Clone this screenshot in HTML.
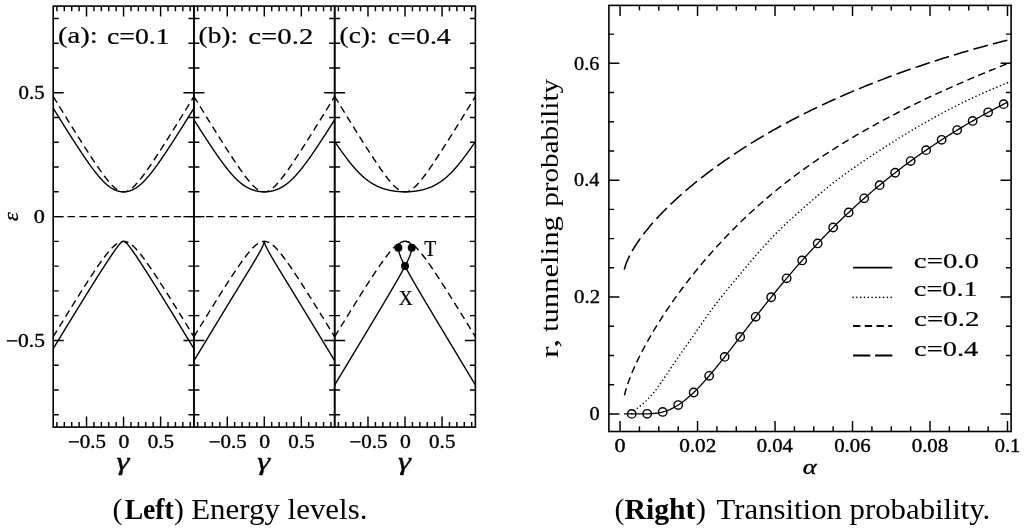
<!DOCTYPE html>
<html><head><meta charset="utf-8"><title>Energy levels and transition probability</title>
<style>
html,body{margin:0;padding:0;background:#fff;}
body{width:1024px;height:532px;overflow:hidden;}
svg{display:block;}
text{font-family:'Liberation Serif', 'DejaVu Serif', serif;fill:#000;}
.fr{fill:none;stroke:#000;stroke-width:1.6;}
.tk{fill:none;stroke:#000;stroke-width:1.45;}
.sl{fill:none;stroke:#000;stroke-width:1.45;stroke-linejoin:round;}
.dl{fill:none;stroke:#000;stroke-width:1.4;stroke-dasharray:7.3 4.5;}
.sll{fill:none;stroke:#000;stroke-width:1.4;stroke-linejoin:round;}
.slz{fill:none;stroke:#000;stroke-width:1.3;stroke-linejoin:round;}
.sd{fill:none;stroke:#000;stroke-width:1.45;stroke-dasharray:7.3 4.4;}
.ld{fill:none;stroke:#000;stroke-width:1.55;stroke-dasharray:15 5.2;}
.dt{fill:none;stroke:#000;stroke-width:1.65;stroke-dasharray:0 3.8;stroke-linecap:round;}
.tl{stroke:#000;stroke-width:0.35;}
.tl2{stroke:#000;stroke-width:0.2;}
.mk{fill:none;stroke:#000;stroke-width:1.4;}
circle{fill:#000;}
circle.mk{fill:none;}
</style></head>
<body>
<svg width="1024" height="532" viewBox="0 0 1024 532" xmlns="http://www.w3.org/2000/svg">
<path class="dl" d="M53.2 96.41 L53.94 97.62 L54.68 98.83 L55.42 100.04 L56.16 101.25 L56.9 102.46 L57.64 103.67 L58.38 104.88 L59.13 106.08 L59.87 107.29 L60.61 108.5 L61.35 109.7 L62.09 110.9 L62.83 112.11 L63.57 113.31 L64.31 114.51 L65.05 115.71 L65.79 116.91 L66.53 118.11 L67.27 119.31 L68.01 120.51 L68.75 121.7 L69.5 122.9 L70.24 124.09 L70.98 125.28 L71.72 126.47 L72.46 127.66 L73.2 128.85 L73.94 130.04 L74.68 131.22 L75.42 132.41 L76.16 133.59 L76.9 134.77 L77.64 135.95 L78.38 137.13 L79.12 138.3 L79.86 139.48 L80.61 140.65 L81.35 141.82 L82.09 142.98 L82.83 144.15 L83.57 145.31 L84.31 146.47 L85.05 147.63 L85.79 148.78 L86.53 149.93 L87.27 151.08 L88.01 152.22 L88.75 153.36 L89.49 154.5 L90.23 155.64 L90.97 156.76 L91.72 157.89 L92.46 159.01 L93.2 160.12 L93.94 161.23 L94.68 162.34 L95.42 163.44 L96.16 164.53 L96.9 165.62 L97.64 166.69 L98.38 167.77 L99.12 168.83 L99.86 169.88 L100.6 170.93 L101.34 171.96 L102.09 172.99 L102.83 174 L103.57 175 L104.31 175.99 L105.05 176.96 L105.79 177.92 L106.53 178.87 L107.27 179.79 L108.01 180.7 L108.75 181.58 L109.49 182.45 L110.23 183.29 L110.97 184.1 L111.71 184.89 L112.45 185.65 L113.2 186.38 L113.94 187.07 L114.68 187.73 L115.42 188.34 L116.16 188.92 L116.9 189.45 L117.64 189.93 L118.38 190.37 L119.12 190.75 L119.86 191.08 L120.6 191.35 L121.34 191.56 L122.08 191.72 L122.82 191.81 L123.57 191.84 L124.31 191.81 L125.05 191.72 L125.79 191.56 L126.53 191.35 L127.27 191.08 L128.01 190.75 L128.75 190.37 L129.49 189.93 L130.23 189.45 L130.97 188.92 L131.71 188.34 L132.45 187.73 L133.19 187.07 L133.93 186.38 L134.68 185.65 L135.42 184.89 L136.16 184.1 L136.9 183.29 L137.64 182.45 L138.38 181.58 L139.12 180.7 L139.86 179.79 L140.6 178.87 L141.34 177.92 L142.08 176.96 L142.82 175.99 L143.56 175 L144.3 174 L145.04 172.99 L145.79 171.96 L146.53 170.93 L147.27 169.88 L148.01 168.83 L148.75 167.77 L149.49 166.69 L150.23 165.62 L150.97 164.53 L151.71 163.44 L152.45 162.34 L153.19 161.23 L153.93 160.12 L154.67 159.01 L155.41 157.89 L156.16 156.76 L156.9 155.64 L157.64 154.5 L158.38 153.36 L159.12 152.22 L159.86 151.08 L160.6 149.93 L161.34 148.78 L162.08 147.63 L162.82 146.47 L163.56 145.31 L164.3 144.15 L165.04 142.98 L165.78 141.82 L166.52 140.65 L167.27 139.48 L168.01 138.3 L168.75 137.13 L169.49 135.95 L170.23 134.77 L170.97 133.59 L171.71 132.41 L172.45 131.22 L173.19 130.04 L173.93 128.85 L174.67 127.66 L175.41 126.47 L176.15 125.28 L176.89 124.09 L177.63 122.9 L178.38 121.7 L179.12 120.51 L179.86 119.31 L180.6 118.11 L181.34 116.91 L182.08 115.71 L182.82 114.51 L183.56 113.31 L184.3 112.11 L185.04 110.9 L185.78 109.7 L186.52 108.5 L187.26 107.29 L188 106.08 L188.75 104.88 L189.49 103.67 L190.23 102.46 L190.97 101.25 L191.71 100.04 L192.45 98.83 L193.19 97.62 L193.93 96.41"/>
<path class="dl" d="M53.2 336.79 L53.94 335.58 L54.68 334.37 L55.42 333.16 L56.16 331.95 L56.9 330.74 L57.64 329.53 L58.38 328.32 L59.13 327.12 L59.87 325.91 L60.61 324.7 L61.35 323.5 L62.09 322.3 L62.83 321.09 L63.57 319.89 L64.31 318.69 L65.05 317.49 L65.79 316.29 L66.53 315.09 L67.27 313.89 L68.01 312.69 L68.75 311.5 L69.5 310.3 L70.24 309.11 L70.98 307.92 L71.72 306.73 L72.46 305.54 L73.2 304.35 L73.94 303.16 L74.68 301.98 L75.42 300.79 L76.16 299.61 L76.9 298.43 L77.64 297.25 L78.38 296.07 L79.12 294.9 L79.86 293.72 L80.61 292.55 L81.35 291.38 L82.09 290.22 L82.83 289.05 L83.57 287.89 L84.31 286.73 L85.05 285.57 L85.79 284.42 L86.53 283.27 L87.27 282.12 L88.01 280.98 L88.75 279.84 L89.49 278.7 L90.23 277.56 L90.97 276.44 L91.72 275.31 L92.46 274.19 L93.2 273.08 L93.94 271.97 L94.68 270.86 L95.42 269.76 L96.16 268.67 L96.9 267.58 L97.64 266.51 L98.38 265.43 L99.12 264.37 L99.86 263.32 L100.6 262.27 L101.34 261.24 L102.09 260.21 L102.83 259.2 L103.57 258.2 L104.31 257.21 L105.05 256.24 L105.79 255.28 L106.53 254.33 L107.27 253.41 L108.01 252.5 L108.75 251.62 L109.49 250.75 L110.23 249.91 L110.97 249.1 L111.71 248.31 L112.45 247.55 L113.2 246.82 L113.94 246.13 L114.68 245.47 L115.42 244.86 L116.16 244.28 L116.9 243.75 L117.64 243.27 L118.38 242.83 L119.12 242.45 L119.86 242.12 L120.6 241.85 L121.34 241.64 L122.08 241.48 L122.82 241.39 L123.57 241.36 L124.31 241.39 L125.05 241.48 L125.79 241.64 L126.53 241.85 L127.27 242.12 L128.01 242.45 L128.75 242.83 L129.49 243.27 L130.23 243.75 L130.97 244.28 L131.71 244.86 L132.45 245.47 L133.19 246.13 L133.93 246.82 L134.68 247.55 L135.42 248.31 L136.16 249.1 L136.9 249.91 L137.64 250.75 L138.38 251.62 L139.12 252.5 L139.86 253.41 L140.6 254.33 L141.34 255.28 L142.08 256.24 L142.82 257.21 L143.56 258.2 L144.3 259.2 L145.04 260.21 L145.79 261.24 L146.53 262.27 L147.27 263.32 L148.01 264.37 L148.75 265.43 L149.49 266.51 L150.23 267.58 L150.97 268.67 L151.71 269.76 L152.45 270.86 L153.19 271.97 L153.93 273.08 L154.67 274.19 L155.41 275.31 L156.16 276.44 L156.9 277.56 L157.64 278.7 L158.38 279.84 L159.12 280.98 L159.86 282.12 L160.6 283.27 L161.34 284.42 L162.08 285.57 L162.82 286.73 L163.56 287.89 L164.3 289.05 L165.04 290.22 L165.78 291.38 L166.52 292.55 L167.27 293.72 L168.01 294.9 L168.75 296.07 L169.49 297.25 L170.23 298.43 L170.97 299.61 L171.71 300.79 L172.45 301.98 L173.19 303.16 L173.93 304.35 L174.67 305.54 L175.41 306.73 L176.15 307.92 L176.89 309.11 L177.63 310.3 L178.38 311.5 L179.12 312.69 L179.86 313.89 L180.6 315.09 L181.34 316.29 L182.08 317.49 L182.82 318.69 L183.56 319.89 L184.3 321.09 L185.04 322.3 L185.78 323.5 L186.52 324.7 L187.26 325.91 L188 327.12 L188.75 328.32 L189.49 329.53 L190.23 330.74 L190.97 331.95 L191.71 333.16 L192.45 334.37 L193.19 335.58 L193.93 336.79"/>
<path class="dl" style="stroke-dashoffset:9.2" d="M53.2 216.6 H193.93"/>
<path class="sll" d="M53.2 108.18 L53.57 108.78 L53.94 109.38 L54.31 109.97 L54.68 110.57 L55.05 111.17 L55.42 111.77 L55.79 112.37 L56.16 112.96 L56.53 113.56 L56.9 114.16 L57.27 114.75 L57.64 115.35 L58.01 115.94 L58.38 116.54 L58.76 117.13 L59.13 117.73 L59.5 118.32 L59.87 118.92 L60.24 119.51 L60.61 120.1 L60.98 120.7 L61.35 121.29 L61.72 121.88 L62.09 122.47 L62.46 123.07 L62.83 123.66 L63.2 124.25 L63.57 124.84 L63.94 125.43 L64.31 126.02 L64.68 126.61 L65.05 127.2 L65.42 127.79 L65.79 128.37 L66.16 128.96 L66.53 129.55 L66.9 130.13 L67.27 130.72 L67.64 131.31 L68.01 131.89 L68.38 132.47 L68.75 133.06 L69.12 133.64 L69.5 134.22 L69.87 134.81 L70.24 135.39 L70.61 135.97 L70.98 136.55 L71.35 137.13 L71.72 137.71 L72.09 138.29 L72.46 138.86 L72.83 139.44 L73.2 140.02 L73.57 140.59 L73.94 141.17 L74.31 141.74 L74.68 142.32 L75.05 142.89 L75.42 143.46 L75.79 144.03 L76.16 144.6 L76.53 145.17 L76.9 145.74 L77.27 146.31 L77.64 146.87 L78.01 147.44 L78.38 148 L78.75 148.57 L79.12 149.13 L79.49 149.69 L79.86 150.25 L80.23 150.81 L80.61 151.37 L80.98 151.92 L81.35 152.48 L81.72 153.03 L82.09 153.59 L82.46 154.14 L82.83 154.69 L83.2 155.24 L83.57 155.79 L83.94 156.33 L84.31 156.88 L84.68 157.42 L85.05 157.96 L85.42 158.5 L85.79 159.04 L86.16 159.58 L86.53 160.11 L86.9 160.64 L87.27 161.18 L87.64 161.71 L88.01 162.23 L88.38 162.76 L88.75 163.28 L89.12 163.8 L89.49 164.32 L89.86 164.84 L90.23 165.35 L90.6 165.86 L90.97 166.37 L91.35 166.88 L91.72 167.38 L92.09 167.89 L92.46 168.38 L92.83 168.88 L93.2 169.37 L93.57 169.86 L93.94 170.35 L94.31 170.83 L94.68 171.32 L95.05 171.79 L95.42 172.27 L95.79 172.74 L96.16 173.2 L96.53 173.67 L96.9 174.13 L97.27 174.58 L97.64 175.03 L98.01 175.48 L98.38 175.93 L98.75 176.36 L99.12 176.8 L99.49 177.23 L99.86 177.66 L100.23 178.08 L100.6 178.49 L100.97 178.9 L101.34 179.31 L101.71 179.71 L102.09 180.11 L102.46 180.5 L102.83 180.88 L103.2 181.26 L103.57 181.64 L103.94 182.01 L104.31 182.37 L104.68 182.72 L105.05 183.07 L105.42 183.42 L105.79 183.76 L106.16 184.09 L106.53 184.41 L106.9 184.73 L107.27 185.05 L107.64 185.35 L108.01 185.65 L108.38 185.94 L108.75 186.23 L109.12 186.51 L109.49 186.78 L109.86 187.04 L110.23 187.3 L110.6 187.55 L110.97 187.8 L111.34 188.03 L111.71 188.26 L112.08 188.48 L112.45 188.7 L112.83 188.91 L113.2 189.11 L113.57 189.3 L113.94 189.49 L114.31 189.67 L114.68 189.84 L115.05 190 L115.42 190.16 L115.79 190.31 L116.16 190.45 L116.53 190.59 L116.9 190.72 L117.27 190.84 L117.64 190.95 L118.01 191.06 L118.38 191.16 L118.75 191.26 L119.12 191.34 L119.49 191.42 L119.86 191.5 L120.23 191.56 L120.6 191.62 L120.97 191.67 L121.34 191.72 L121.71 191.75 L122.08 191.78 L122.45 191.81 L122.82 191.83 L123.19 191.84 L123.56 191.84 L123.57 191.84 L123.94 191.84 L124.31 191.83 L124.68 191.81 L125.05 191.78 L125.42 191.75 L125.79 191.72 L126.16 191.67 L126.53 191.62 L126.9 191.56 L127.27 191.5 L127.64 191.42 L128.01 191.34 L128.38 191.26 L128.75 191.16 L129.12 191.06 L129.49 190.95 L129.86 190.84 L130.23 190.72 L130.6 190.59 L130.97 190.45 L131.34 190.31 L131.71 190.16 L132.08 190 L132.45 189.84 L132.82 189.67 L133.19 189.49 L133.56 189.3 L133.93 189.11 L134.3 188.91 L134.68 188.7 L135.05 188.48 L135.42 188.26 L135.79 188.03 L136.16 187.8 L136.53 187.55 L136.9 187.3 L137.27 187.04 L137.64 186.78 L138.01 186.51 L138.38 186.23 L138.75 185.94 L139.12 185.65 L139.49 185.35 L139.86 185.05 L140.23 184.73 L140.6 184.41 L140.97 184.09 L141.34 183.76 L141.71 183.42 L142.08 183.07 L142.45 182.72 L142.82 182.37 L143.19 182.01 L143.56 181.64 L143.93 181.26 L144.3 180.88 L144.67 180.5 L145.04 180.11 L145.42 179.71 L145.79 179.31 L146.16 178.9 L146.53 178.49 L146.9 178.08 L147.27 177.66 L147.64 177.23 L148.01 176.8 L148.38 176.36 L148.75 175.93 L149.12 175.48 L149.49 175.03 L149.86 174.58 L150.23 174.13 L150.6 173.67 L150.97 173.2 L151.34 172.74 L151.71 172.27 L152.08 171.79 L152.45 171.32 L152.82 170.83 L153.19 170.35 L153.56 169.86 L153.93 169.37 L154.3 168.88 L154.67 168.38 L155.04 167.89 L155.41 167.38 L155.78 166.88 L156.16 166.37 L156.53 165.86 L156.9 165.35 L157.27 164.84 L157.64 164.32 L158.01 163.8 L158.38 163.28 L158.75 162.76 L159.12 162.23 L159.49 161.71 L159.86 161.18 L160.23 160.64 L160.6 160.11 L160.97 159.58 L161.34 159.04 L161.71 158.5 L162.08 157.96 L162.45 157.42 L162.82 156.88 L163.19 156.33 L163.56 155.79 L163.93 155.24 L164.3 154.69 L164.67 154.14 L165.04 153.59 L165.41 153.03 L165.78 152.48 L166.15 151.92 L166.52 151.37 L166.9 150.81 L167.27 150.25 L167.64 149.69 L168.01 149.13 L168.38 148.57 L168.75 148 L169.12 147.44 L169.49 146.87 L169.86 146.31 L170.23 145.74 L170.6 145.17 L170.97 144.6 L171.34 144.03 L171.71 143.46 L172.08 142.89 L172.45 142.32 L172.82 141.74 L173.19 141.17 L173.56 140.59 L173.93 140.02 L174.3 139.44 L174.67 138.86 L175.04 138.29 L175.41 137.71 L175.78 137.13 L176.15 136.55 L176.52 135.97 L176.89 135.39 L177.26 134.81 L177.63 134.22 L178.01 133.64 L178.38 133.06 L178.75 132.47 L179.12 131.89 L179.49 131.31 L179.86 130.72 L180.23 130.13 L180.6 129.55 L180.97 128.96 L181.34 128.37 L181.71 127.79 L182.08 127.2 L182.45 126.61 L182.82 126.02 L183.19 125.43 L183.56 124.84 L183.93 124.25 L184.3 123.66 L184.67 123.07 L185.04 122.47 L185.41 121.88 L185.78 121.29 L186.15 120.7 L186.52 120.1 L186.89 119.51 L187.26 118.92 L187.63 118.32 L188 117.73 L188.37 117.13 L188.75 116.54 L189.12 115.94 L189.49 115.35 L189.86 114.75 L190.23 114.16 L190.6 113.56 L190.97 112.96 L191.34 112.37 L191.71 111.77 L192.08 111.17 L192.45 110.57 L192.82 109.97 L193.19 109.38 L193.56 108.78 L193.93 108.18"/>
<path class="sll" d="M53.2 348.71 L53.57 348.1 L53.94 347.49 L54.31 346.88 L54.68 346.27 L55.05 345.66 L55.42 345.05 L55.79 344.44 L56.16 343.83 L56.53 343.22 L56.9 342.62 L57.27 342.01 L57.64 341.4 L58.01 340.79 L58.38 340.18 L58.76 339.57 L59.13 338.96 L59.5 338.35 L59.87 337.74 L60.24 337.14 L60.61 336.53 L60.98 335.92 L61.35 335.31 L61.72 334.7 L62.09 334.09 L62.46 333.49 L62.83 332.88 L63.2 332.27 L63.57 331.66 L63.94 331.06 L64.31 330.45 L64.68 329.84 L65.05 329.23 L65.42 328.63 L65.79 328.02 L66.16 327.41 L66.53 326.81 L66.9 326.2 L67.27 325.59 L67.64 324.99 L68.01 324.38 L68.38 323.78 L68.75 323.17 L69.12 322.56 L69.5 321.96 L69.87 321.35 L70.24 320.75 L70.61 320.14 L70.98 319.54 L71.35 318.93 L71.72 318.33 L72.09 317.72 L72.46 317.12 L72.83 316.51 L73.2 315.91 L73.57 315.31 L73.94 314.7 L74.31 314.1 L74.68 313.49 L75.05 312.89 L75.42 312.29 L75.79 311.68 L76.16 311.08 L76.53 310.48 L76.9 309.88 L77.27 309.27 L77.64 308.67 L78.01 308.07 L78.38 307.47 L78.75 306.87 L79.12 306.27 L79.49 305.66 L79.86 305.06 L80.23 304.46 L80.61 303.86 L80.98 303.26 L81.35 302.66 L81.72 302.06 L82.09 301.46 L82.46 300.86 L82.83 300.26 L83.2 299.66 L83.57 299.07 L83.94 298.47 L84.31 297.87 L84.68 297.27 L85.05 296.67 L85.42 296.08 L85.79 295.48 L86.16 294.88 L86.53 294.29 L86.9 293.69 L87.27 293.09 L87.64 292.5 L88.01 291.9 L88.38 291.31 L88.75 290.71 L89.12 290.12 L89.49 289.52 L89.86 288.93 L90.23 288.34 L90.6 287.74 L90.97 287.15 L91.35 286.56 L91.72 285.97 L92.09 285.38 L92.46 284.79 L92.83 284.19 L93.2 283.6 L93.57 283.01 L93.94 282.43 L94.31 281.84 L94.68 281.25 L95.05 280.66 L95.42 280.07 L95.79 279.48 L96.16 278.9 L96.53 278.31 L96.9 277.73 L97.27 277.14 L97.64 276.56 L98.01 275.97 L98.38 275.39 L98.75 274.81 L99.12 274.22 L99.49 273.64 L99.86 273.06 L100.23 272.48 L100.6 271.9 L100.97 271.32 L101.34 270.74 L101.71 270.17 L102.09 269.59 L102.46 269.01 L102.83 268.44 L103.2 267.86 L103.57 267.29 L103.94 266.71 L104.31 266.14 L104.68 265.57 L105.05 265 L105.42 264.43 L105.79 263.86 L106.16 263.29 L106.53 262.73 L106.9 262.16 L107.27 261.6 L107.64 261.03 L108.01 260.47 L108.38 259.91 L108.75 259.35 L109.12 258.79 L109.49 258.24 L109.86 257.68 L110.23 257.13 L110.6 256.58 L110.97 256.02 L111.34 255.48 L111.71 254.93 L112.08 254.38 L112.45 253.84 L112.83 253.3 L113.2 252.76 L113.57 252.23 L113.94 251.69 L114.31 251.16 L114.68 250.63 L115.05 250.11 L115.42 249.59 L115.79 249.07 L116.16 248.56 L116.53 248.05 L116.9 247.55 L117.27 247.05 L117.64 246.56 L118.01 246.08 L118.38 245.61 L118.75 245.15 L119.12 244.7 L119.49 244.26 L119.86 243.84 L120.23 243.43 L120.6 243.05 L120.97 242.7 L121.34 242.37 L121.71 242.08 L122.08 241.83 L122.45 241.63 L122.82 241.48 L123.19 241.39 L123.56 241.36 L123.57 241.36 L123.94 241.39 L124.31 241.48 L124.68 241.63 L125.05 241.83 L125.42 242.08 L125.79 242.37 L126.16 242.7 L126.53 243.05 L126.9 243.43 L127.27 243.84 L127.64 244.26 L128.01 244.7 L128.38 245.15 L128.75 245.61 L129.12 246.08 L129.49 246.56 L129.86 247.05 L130.23 247.55 L130.6 248.05 L130.97 248.56 L131.34 249.07 L131.71 249.59 L132.08 250.11 L132.45 250.63 L132.82 251.16 L133.19 251.69 L133.56 252.23 L133.93 252.76 L134.3 253.3 L134.68 253.84 L135.05 254.38 L135.42 254.93 L135.79 255.48 L136.16 256.02 L136.53 256.58 L136.9 257.13 L137.27 257.68 L137.64 258.24 L138.01 258.79 L138.38 259.35 L138.75 259.91 L139.12 260.47 L139.49 261.03 L139.86 261.6 L140.23 262.16 L140.6 262.73 L140.97 263.29 L141.34 263.86 L141.71 264.43 L142.08 265 L142.45 265.57 L142.82 266.14 L143.19 266.71 L143.56 267.29 L143.93 267.86 L144.3 268.44 L144.67 269.01 L145.04 269.59 L145.42 270.17 L145.79 270.74 L146.16 271.32 L146.53 271.9 L146.9 272.48 L147.27 273.06 L147.64 273.64 L148.01 274.22 L148.38 274.81 L148.75 275.39 L149.12 275.97 L149.49 276.56 L149.86 277.14 L150.23 277.73 L150.6 278.31 L150.97 278.9 L151.34 279.48 L151.71 280.07 L152.08 280.66 L152.45 281.25 L152.82 281.84 L153.19 282.43 L153.56 283.01 L153.93 283.6 L154.3 284.19 L154.67 284.79 L155.04 285.38 L155.41 285.97 L155.78 286.56 L156.16 287.15 L156.53 287.74 L156.9 288.34 L157.27 288.93 L157.64 289.52 L158.01 290.12 L158.38 290.71 L158.75 291.31 L159.12 291.9 L159.49 292.5 L159.86 293.09 L160.23 293.69 L160.6 294.29 L160.97 294.88 L161.34 295.48 L161.71 296.08 L162.08 296.67 L162.45 297.27 L162.82 297.87 L163.19 298.47 L163.56 299.07 L163.93 299.66 L164.3 300.26 L164.67 300.86 L165.04 301.46 L165.41 302.06 L165.78 302.66 L166.15 303.26 L166.52 303.86 L166.9 304.46 L167.27 305.06 L167.64 305.66 L168.01 306.27 L168.38 306.87 L168.75 307.47 L169.12 308.07 L169.49 308.67 L169.86 309.27 L170.23 309.88 L170.6 310.48 L170.97 311.08 L171.34 311.68 L171.71 312.29 L172.08 312.89 L172.45 313.49 L172.82 314.1 L173.19 314.7 L173.56 315.31 L173.93 315.91 L174.3 316.51 L174.67 317.12 L175.04 317.72 L175.41 318.33 L175.78 318.93 L176.15 319.54 L176.52 320.14 L176.89 320.75 L177.26 321.35 L177.63 321.96 L178.01 322.56 L178.38 323.17 L178.75 323.78 L179.12 324.38 L179.49 324.99 L179.86 325.59 L180.23 326.2 L180.6 326.81 L180.97 327.41 L181.34 328.02 L181.71 328.63 L182.08 329.23 L182.45 329.84 L182.82 330.45 L183.19 331.06 L183.56 331.66 L183.93 332.27 L184.3 332.88 L184.67 333.49 L185.04 334.09 L185.41 334.7 L185.78 335.31 L186.15 335.92 L186.52 336.53 L186.89 337.14 L187.26 337.74 L187.63 338.35 L188 338.96 L188.37 339.57 L188.75 340.18 L189.12 340.79 L189.49 341.4 L189.86 342.01 L190.23 342.62 L190.6 343.22 L190.97 343.83 L191.34 344.44 L191.71 345.05 L192.08 345.66 L192.45 346.27 L192.82 346.88 L193.19 347.49 L193.56 348.1 L193.93 348.71"/>
<path class="dl" d="M193.93 96.41 L194.67 97.62 L195.41 98.83 L196.15 100.04 L196.89 101.25 L197.63 102.46 L198.37 103.67 L199.11 104.88 L199.86 106.08 L200.6 107.29 L201.34 108.5 L202.08 109.7 L202.82 110.9 L203.56 112.11 L204.3 113.31 L205.04 114.51 L205.78 115.71 L206.52 116.91 L207.26 118.11 L208 119.31 L208.74 120.51 L209.48 121.7 L210.23 122.9 L210.97 124.09 L211.71 125.28 L212.45 126.47 L213.19 127.66 L213.93 128.85 L214.67 130.04 L215.41 131.22 L216.15 132.41 L216.89 133.59 L217.63 134.77 L218.37 135.95 L219.11 137.13 L219.85 138.3 L220.59 139.48 L221.34 140.65 L222.08 141.82 L222.82 142.98 L223.56 144.15 L224.3 145.31 L225.04 146.47 L225.78 147.63 L226.52 148.78 L227.26 149.93 L228 151.08 L228.74 152.22 L229.48 153.36 L230.22 154.5 L230.96 155.64 L231.7 156.76 L232.45 157.89 L233.19 159.01 L233.93 160.12 L234.67 161.23 L235.41 162.34 L236.15 163.44 L236.89 164.53 L237.63 165.62 L238.37 166.69 L239.11 167.77 L239.85 168.83 L240.59 169.88 L241.33 170.93 L242.07 171.96 L242.82 172.99 L243.56 174 L244.3 175 L245.04 175.99 L245.78 176.96 L246.52 177.92 L247.26 178.87 L248 179.79 L248.74 180.7 L249.48 181.58 L250.22 182.45 L250.96 183.29 L251.7 184.1 L252.44 184.89 L253.18 185.65 L253.93 186.38 L254.67 187.07 L255.41 187.73 L256.15 188.34 L256.89 188.92 L257.63 189.45 L258.37 189.93 L259.11 190.37 L259.85 190.75 L260.59 191.08 L261.33 191.35 L262.07 191.56 L262.81 191.72 L263.55 191.81 L264.3 191.84 L265.04 191.81 L265.78 191.72 L266.52 191.56 L267.26 191.35 L268 191.08 L268.74 190.75 L269.48 190.37 L270.22 189.93 L270.96 189.45 L271.7 188.92 L272.44 188.34 L273.18 187.73 L273.92 187.07 L274.66 186.38 L275.41 185.65 L276.15 184.89 L276.89 184.1 L277.63 183.29 L278.37 182.45 L279.11 181.58 L279.85 180.7 L280.59 179.79 L281.33 178.87 L282.07 177.92 L282.81 176.96 L283.55 175.99 L284.29 175 L285.03 174 L285.77 172.99 L286.52 171.96 L287.26 170.93 L288 169.88 L288.74 168.83 L289.48 167.77 L290.22 166.69 L290.96 165.62 L291.7 164.53 L292.44 163.44 L293.18 162.34 L293.92 161.23 L294.66 160.12 L295.4 159.01 L296.14 157.89 L296.89 156.76 L297.63 155.64 L298.37 154.5 L299.11 153.36 L299.85 152.22 L300.59 151.08 L301.33 149.93 L302.07 148.78 L302.81 147.63 L303.55 146.47 L304.29 145.31 L305.03 144.15 L305.77 142.98 L306.51 141.82 L307.25 140.65 L308 139.48 L308.74 138.3 L309.48 137.13 L310.22 135.95 L310.96 134.77 L311.7 133.59 L312.44 132.41 L313.18 131.22 L313.92 130.04 L314.66 128.85 L315.4 127.66 L316.14 126.47 L316.88 125.28 L317.62 124.09 L318.36 122.9 L319.11 121.7 L319.85 120.51 L320.59 119.31 L321.33 118.11 L322.07 116.91 L322.81 115.71 L323.55 114.51 L324.29 113.31 L325.03 112.11 L325.77 110.9 L326.51 109.7 L327.25 108.5 L327.99 107.29 L328.73 106.08 L329.48 104.88 L330.22 103.67 L330.96 102.46 L331.7 101.25 L332.44 100.04 L333.18 98.83 L333.92 97.62 L334.66 96.41"/>
<path class="dl" d="M193.93 336.79 L194.67 335.58 L195.41 334.37 L196.15 333.16 L196.89 331.95 L197.63 330.74 L198.37 329.53 L199.11 328.32 L199.86 327.12 L200.6 325.91 L201.34 324.7 L202.08 323.5 L202.82 322.3 L203.56 321.09 L204.3 319.89 L205.04 318.69 L205.78 317.49 L206.52 316.29 L207.26 315.09 L208 313.89 L208.74 312.69 L209.48 311.5 L210.23 310.3 L210.97 309.11 L211.71 307.92 L212.45 306.73 L213.19 305.54 L213.93 304.35 L214.67 303.16 L215.41 301.98 L216.15 300.79 L216.89 299.61 L217.63 298.43 L218.37 297.25 L219.11 296.07 L219.85 294.9 L220.59 293.72 L221.34 292.55 L222.08 291.38 L222.82 290.22 L223.56 289.05 L224.3 287.89 L225.04 286.73 L225.78 285.57 L226.52 284.42 L227.26 283.27 L228 282.12 L228.74 280.98 L229.48 279.84 L230.22 278.7 L230.96 277.56 L231.7 276.44 L232.45 275.31 L233.19 274.19 L233.93 273.08 L234.67 271.97 L235.41 270.86 L236.15 269.76 L236.89 268.67 L237.63 267.58 L238.37 266.51 L239.11 265.43 L239.85 264.37 L240.59 263.32 L241.33 262.27 L242.07 261.24 L242.82 260.21 L243.56 259.2 L244.3 258.2 L245.04 257.21 L245.78 256.24 L246.52 255.28 L247.26 254.33 L248 253.41 L248.74 252.5 L249.48 251.62 L250.22 250.75 L250.96 249.91 L251.7 249.1 L252.44 248.31 L253.18 247.55 L253.93 246.82 L254.67 246.13 L255.41 245.47 L256.15 244.86 L256.89 244.28 L257.63 243.75 L258.37 243.27 L259.11 242.83 L259.85 242.45 L260.59 242.12 L261.33 241.85 L262.07 241.64 L262.81 241.48 L263.55 241.39 L264.3 241.36 L265.04 241.39 L265.78 241.48 L266.52 241.64 L267.26 241.85 L268 242.12 L268.74 242.45 L269.48 242.83 L270.22 243.27 L270.96 243.75 L271.7 244.28 L272.44 244.86 L273.18 245.47 L273.92 246.13 L274.66 246.82 L275.41 247.55 L276.15 248.31 L276.89 249.1 L277.63 249.91 L278.37 250.75 L279.11 251.62 L279.85 252.5 L280.59 253.41 L281.33 254.33 L282.07 255.28 L282.81 256.24 L283.55 257.21 L284.29 258.2 L285.03 259.2 L285.77 260.21 L286.52 261.24 L287.26 262.27 L288 263.32 L288.74 264.37 L289.48 265.43 L290.22 266.51 L290.96 267.58 L291.7 268.67 L292.44 269.76 L293.18 270.86 L293.92 271.97 L294.66 273.08 L295.4 274.19 L296.14 275.31 L296.89 276.44 L297.63 277.56 L298.37 278.7 L299.11 279.84 L299.85 280.98 L300.59 282.12 L301.33 283.27 L302.07 284.42 L302.81 285.57 L303.55 286.73 L304.29 287.89 L305.03 289.05 L305.77 290.22 L306.51 291.38 L307.25 292.55 L308 293.72 L308.74 294.9 L309.48 296.07 L310.22 297.25 L310.96 298.43 L311.7 299.61 L312.44 300.79 L313.18 301.98 L313.92 303.16 L314.66 304.35 L315.4 305.54 L316.14 306.73 L316.88 307.92 L317.62 309.11 L318.36 310.3 L319.11 311.5 L319.85 312.69 L320.59 313.89 L321.33 315.09 L322.07 316.29 L322.81 317.49 L323.55 318.69 L324.29 319.89 L325.03 321.09 L325.77 322.3 L326.51 323.5 L327.25 324.7 L327.99 325.91 L328.73 327.12 L329.48 328.32 L330.22 329.53 L330.96 330.74 L331.7 331.95 L332.44 333.16 L333.18 334.37 L333.92 335.58 L334.66 336.79"/>
<path class="dl" style="stroke-dashoffset:11.4" d="M193.93 216.6 H334.66"/>
<path class="sll" d="M193.93 119.71 L194.3 120.3 L194.67 120.89 L195.04 121.47 L195.41 122.06 L195.78 122.65 L196.15 123.23 L196.52 123.82 L196.89 124.41 L197.26 124.99 L197.63 125.57 L198 126.16 L198.37 126.74 L198.74 127.32 L199.11 127.91 L199.49 128.49 L199.86 129.07 L200.23 129.65 L200.6 130.23 L200.97 130.81 L201.34 131.39 L201.71 131.96 L202.08 132.54 L202.45 133.12 L202.82 133.69 L203.19 134.27 L203.56 134.84 L203.93 135.42 L204.3 135.99 L204.67 136.56 L205.04 137.13 L205.41 137.7 L205.78 138.27 L206.15 138.84 L206.52 139.41 L206.89 139.98 L207.26 140.54 L207.63 141.11 L208 141.67 L208.37 142.24 L208.74 142.8 L209.11 143.36 L209.48 143.92 L209.85 144.48 L210.23 145.04 L210.6 145.59 L210.97 146.15 L211.34 146.7 L211.71 147.26 L212.08 147.81 L212.45 148.36 L212.82 148.91 L213.19 149.46 L213.56 150.01 L213.93 150.55 L214.3 151.1 L214.67 151.64 L215.04 152.18 L215.41 152.72 L215.78 153.26 L216.15 153.8 L216.52 154.33 L216.89 154.87 L217.26 155.4 L217.63 155.93 L218 156.46 L218.37 156.98 L218.74 157.51 L219.11 158.03 L219.48 158.55 L219.85 159.07 L220.22 159.59 L220.59 160.1 L220.96 160.61 L221.34 161.12 L221.71 161.63 L222.08 162.13 L222.45 162.64 L222.82 163.14 L223.19 163.64 L223.56 164.13 L223.93 164.62 L224.3 165.11 L224.67 165.6 L225.04 166.08 L225.41 166.57 L225.78 167.04 L226.15 167.52 L226.52 167.99 L226.89 168.46 L227.26 168.93 L227.63 169.39 L228 169.85 L228.37 170.3 L228.74 170.75 L229.11 171.2 L229.48 171.65 L229.85 172.09 L230.22 172.52 L230.59 172.96 L230.96 173.39 L231.33 173.81 L231.7 174.23 L232.08 174.65 L232.45 175.06 L232.82 175.47 L233.19 175.87 L233.56 176.27 L233.93 176.67 L234.3 177.06 L234.67 177.44 L235.04 177.82 L235.41 178.2 L235.78 178.57 L236.15 178.93 L236.52 179.29 L236.89 179.65 L237.26 180 L237.63 180.35 L238 180.69 L238.37 181.02 L238.74 181.35 L239.11 181.68 L239.48 181.99 L239.85 182.31 L240.22 182.62 L240.59 182.92 L240.96 183.22 L241.33 183.51 L241.7 183.8 L242.07 184.08 L242.44 184.35 L242.82 184.62 L243.19 184.89 L243.56 185.15 L243.93 185.4 L244.3 185.65 L244.67 185.89 L245.04 186.13 L245.41 186.36 L245.78 186.59 L246.15 186.81 L246.52 187.03 L246.89 187.24 L247.26 187.44 L247.63 187.64 L248 187.84 L248.37 188.03 L248.74 188.21 L249.11 188.39 L249.48 188.57 L249.85 188.74 L250.22 188.9 L250.59 189.06 L250.96 189.21 L251.33 189.36 L251.7 189.51 L252.07 189.65 L252.44 189.78 L252.81 189.91 L253.18 190.04 L253.56 190.16 L253.93 190.28 L254.3 190.39 L254.67 190.5 L255.04 190.6 L255.41 190.7 L255.78 190.8 L256.15 190.89 L256.52 190.97 L256.89 191.05 L257.26 191.13 L257.63 191.21 L258 191.27 L258.37 191.34 L258.74 191.4 L259.11 191.46 L259.48 191.51 L259.85 191.56 L260.22 191.6 L260.59 191.65 L260.96 191.68 L261.33 191.72 L261.7 191.75 L262.07 191.77 L262.44 191.79 L262.81 191.81 L263.18 191.82 L263.55 191.83 L263.92 191.84 L264.29 191.84 L264.3 191.84 L264.67 191.84 L265.04 191.83 L265.41 191.82 L265.78 191.81 L266.15 191.79 L266.52 191.77 L266.89 191.75 L267.26 191.72 L267.63 191.68 L268 191.65 L268.37 191.6 L268.74 191.56 L269.11 191.51 L269.48 191.46 L269.85 191.4 L270.22 191.34 L270.59 191.27 L270.96 191.21 L271.33 191.13 L271.7 191.05 L272.07 190.97 L272.44 190.89 L272.81 190.8 L273.18 190.7 L273.55 190.6 L273.92 190.5 L274.29 190.39 L274.66 190.28 L275.03 190.16 L275.41 190.04 L275.78 189.91 L276.15 189.78 L276.52 189.65 L276.89 189.51 L277.26 189.36 L277.63 189.21 L278 189.06 L278.37 188.9 L278.74 188.74 L279.11 188.57 L279.48 188.39 L279.85 188.21 L280.22 188.03 L280.59 187.84 L280.96 187.64 L281.33 187.44 L281.7 187.24 L282.07 187.03 L282.44 186.81 L282.81 186.59 L283.18 186.36 L283.55 186.13 L283.92 185.89 L284.29 185.65 L284.66 185.4 L285.03 185.15 L285.4 184.89 L285.77 184.62 L286.15 184.35 L286.52 184.08 L286.89 183.8 L287.26 183.51 L287.63 183.22 L288 182.92 L288.37 182.62 L288.74 182.31 L289.11 181.99 L289.48 181.68 L289.85 181.35 L290.22 181.02 L290.59 180.69 L290.96 180.35 L291.33 180 L291.7 179.65 L292.07 179.29 L292.44 178.93 L292.81 178.57 L293.18 178.2 L293.55 177.82 L293.92 177.44 L294.29 177.06 L294.66 176.67 L295.03 176.27 L295.4 175.87 L295.77 175.47 L296.14 175.06 L296.51 174.65 L296.89 174.23 L297.26 173.81 L297.63 173.39 L298 172.96 L298.37 172.52 L298.74 172.09 L299.11 171.65 L299.48 171.2 L299.85 170.75 L300.22 170.3 L300.59 169.85 L300.96 169.39 L301.33 168.93 L301.7 168.46 L302.07 167.99 L302.44 167.52 L302.81 167.04 L303.18 166.57 L303.55 166.08 L303.92 165.6 L304.29 165.11 L304.66 164.62 L305.03 164.13 L305.4 163.64 L305.77 163.14 L306.14 162.64 L306.51 162.13 L306.88 161.63 L307.25 161.12 L307.63 160.61 L308 160.1 L308.37 159.59 L308.74 159.07 L309.11 158.55 L309.48 158.03 L309.85 157.51 L310.22 156.98 L310.59 156.46 L310.96 155.93 L311.33 155.4 L311.7 154.87 L312.07 154.33 L312.44 153.8 L312.81 153.26 L313.18 152.72 L313.55 152.18 L313.92 151.64 L314.29 151.1 L314.66 150.55 L315.03 150.01 L315.4 149.46 L315.77 148.91 L316.14 148.36 L316.51 147.81 L316.88 147.26 L317.25 146.7 L317.62 146.15 L317.99 145.59 L318.36 145.04 L318.74 144.48 L319.11 143.92 L319.48 143.36 L319.85 142.8 L320.22 142.24 L320.59 141.67 L320.96 141.11 L321.33 140.54 L321.7 139.98 L322.07 139.41 L322.44 138.84 L322.81 138.27 L323.18 137.7 L323.55 137.13 L323.92 136.56 L324.29 135.99 L324.66 135.42 L325.03 134.84 L325.4 134.27 L325.77 133.69 L326.14 133.12 L326.51 132.54 L326.88 131.96 L327.25 131.39 L327.62 130.81 L327.99 130.23 L328.36 129.65 L328.73 129.07 L329.1 128.49 L329.48 127.91 L329.85 127.32 L330.22 126.74 L330.59 126.16 L330.96 125.57 L331.33 124.99 L331.7 124.41 L332.07 123.82 L332.44 123.23 L332.81 122.65 L333.18 122.06 L333.55 121.47 L333.92 120.89 L334.29 120.3 L334.66 119.71"/>
<path class="sll" d="M193.93 360.74 L194.3 360.13 L194.67 359.52 L195.04 358.91 L195.41 358.29 L195.78 357.68 L196.15 357.07 L196.52 356.46 L196.89 355.84 L197.26 355.23 L197.63 354.62 L198 354 L198.37 353.39 L198.74 352.78 L199.11 352.17 L199.49 351.56 L199.86 350.94 L200.23 350.33 L200.6 349.72 L200.97 349.11 L201.34 348.49 L201.71 347.88 L202.08 347.27 L202.45 346.66 L202.82 346.05 L203.19 345.44 L203.56 344.82 L203.93 344.21 L204.3 343.6 L204.67 342.99 L205.04 342.38 L205.41 341.77 L205.78 341.15 L206.15 340.54 L206.52 339.93 L206.89 339.32 L207.26 338.71 L207.63 338.1 L208 337.49 L208.37 336.87 L208.74 336.26 L209.11 335.65 L209.48 335.04 L209.85 334.43 L210.23 333.82 L210.6 333.21 L210.97 332.6 L211.34 331.99 L211.71 331.38 L212.08 330.77 L212.45 330.16 L212.82 329.55 L213.19 328.94 L213.56 328.33 L213.93 327.72 L214.3 327.11 L214.67 326.49 L215.04 325.88 L215.41 325.27 L215.78 324.67 L216.15 324.06 L216.52 323.45 L216.89 322.84 L217.26 322.23 L217.63 321.62 L218 321.01 L218.37 320.4 L218.74 319.79 L219.11 319.18 L219.48 318.57 L219.85 317.96 L220.22 317.35 L220.59 316.74 L220.96 316.13 L221.34 315.52 L221.71 314.92 L222.08 314.31 L222.45 313.7 L222.82 313.09 L223.19 312.48 L223.56 311.87 L223.93 311.26 L224.3 310.66 L224.67 310.05 L225.04 309.44 L225.41 308.83 L225.78 308.22 L226.15 307.62 L226.52 307.01 L226.89 306.4 L227.26 305.79 L227.63 305.18 L228 304.58 L228.37 303.97 L228.74 303.36 L229.11 302.76 L229.48 302.15 L229.85 301.54 L230.22 300.93 L230.59 300.33 L230.96 299.72 L231.33 299.11 L231.7 298.51 L232.08 297.9 L232.45 297.29 L232.82 296.69 L233.19 296.08 L233.56 295.47 L233.93 294.87 L234.3 294.26 L234.67 293.65 L235.04 293.05 L235.41 292.44 L235.78 291.83 L236.15 291.23 L236.52 290.62 L236.89 290.02 L237.26 289.41 L237.63 288.8 L238 288.2 L238.37 287.59 L238.74 286.99 L239.11 286.38 L239.48 285.78 L239.85 285.17 L240.22 284.56 L240.59 283.96 L240.96 283.35 L241.33 282.75 L241.7 282.14 L242.07 281.54 L242.44 280.93 L242.82 280.32 L243.19 279.72 L243.56 279.11 L243.93 278.51 L244.3 277.9 L244.67 277.29 L245.04 276.69 L245.41 276.08 L245.78 275.47 L246.15 274.87 L246.52 274.26 L246.89 273.65 L247.26 273.05 L247.63 272.44 L248 271.83 L248.37 271.22 L248.74 270.61 L249.11 270 L249.48 269.39 L249.85 268.78 L250.22 268.17 L250.59 267.56 L250.96 266.95 L251.33 266.34 L251.7 265.73 L252.07 265.11 L252.44 264.5 L252.81 263.88 L253.18 263.27 L253.56 262.65 L253.93 262.03 L254.3 261.41 L254.67 260.79 L255.04 260.17 L255.41 259.54 L255.78 258.92 L256.15 258.29 L256.52 257.66 L256.89 257.02 L257.26 256.39 L257.63 255.75 L258 255.1 L258.37 254.45 L258.74 253.8 L259.11 253.14 L259.48 252.48 L259.85 251.81 L260.22 251.13 L260.59 250.44 L260.96 249.74 L261.33 249.03 L261.7 248.3 L262.07 247.55 L262.44 246.77 L262.81 245.97 L263.18 245.11 L263.55 244.17 L263.92 243.1 L264.29 241.48 L264.3 241.48 L264.67 243.1 L265.04 244.17 L265.41 245.11 L265.78 245.97 L266.15 246.77 L266.52 247.55 L266.89 248.3 L267.26 249.03 L267.63 249.74 L268 250.44 L268.37 251.13 L268.74 251.81 L269.11 252.48 L269.48 253.14 L269.85 253.8 L270.22 254.45 L270.59 255.1 L270.96 255.75 L271.33 256.39 L271.7 257.02 L272.07 257.66 L272.44 258.29 L272.81 258.92 L273.18 259.54 L273.55 260.17 L273.92 260.79 L274.29 261.41 L274.66 262.03 L275.03 262.65 L275.41 263.27 L275.78 263.88 L276.15 264.5 L276.52 265.11 L276.89 265.73 L277.26 266.34 L277.63 266.95 L278 267.56 L278.37 268.17 L278.74 268.78 L279.11 269.39 L279.48 270 L279.85 270.61 L280.22 271.22 L280.59 271.83 L280.96 272.44 L281.33 273.05 L281.7 273.65 L282.07 274.26 L282.44 274.87 L282.81 275.47 L283.18 276.08 L283.55 276.69 L283.92 277.29 L284.29 277.9 L284.66 278.51 L285.03 279.11 L285.4 279.72 L285.77 280.32 L286.15 280.93 L286.52 281.54 L286.89 282.14 L287.26 282.75 L287.63 283.35 L288 283.96 L288.37 284.56 L288.74 285.17 L289.11 285.78 L289.48 286.38 L289.85 286.99 L290.22 287.59 L290.59 288.2 L290.96 288.8 L291.33 289.41 L291.7 290.02 L292.07 290.62 L292.44 291.23 L292.81 291.83 L293.18 292.44 L293.55 293.05 L293.92 293.65 L294.29 294.26 L294.66 294.87 L295.03 295.47 L295.4 296.08 L295.77 296.69 L296.14 297.29 L296.51 297.9 L296.89 298.51 L297.26 299.11 L297.63 299.72 L298 300.33 L298.37 300.93 L298.74 301.54 L299.11 302.15 L299.48 302.76 L299.85 303.36 L300.22 303.97 L300.59 304.58 L300.96 305.18 L301.33 305.79 L301.7 306.4 L302.07 307.01 L302.44 307.62 L302.81 308.22 L303.18 308.83 L303.55 309.44 L303.92 310.05 L304.29 310.66 L304.66 311.26 L305.03 311.87 L305.4 312.48 L305.77 313.09 L306.14 313.7 L306.51 314.31 L306.88 314.92 L307.25 315.52 L307.63 316.13 L308 316.74 L308.37 317.35 L308.74 317.96 L309.11 318.57 L309.48 319.18 L309.85 319.79 L310.22 320.4 L310.59 321.01 L310.96 321.62 L311.33 322.23 L311.7 322.84 L312.07 323.45 L312.44 324.06 L312.81 324.67 L313.18 325.27 L313.55 325.88 L313.92 326.49 L314.29 327.11 L314.66 327.72 L315.03 328.33 L315.4 328.94 L315.77 329.55 L316.14 330.16 L316.51 330.77 L316.88 331.38 L317.25 331.99 L317.62 332.6 L317.99 333.21 L318.36 333.82 L318.74 334.43 L319.11 335.04 L319.48 335.65 L319.85 336.26 L320.22 336.87 L320.59 337.49 L320.96 338.1 L321.33 338.71 L321.7 339.32 L322.07 339.93 L322.44 340.54 L322.81 341.15 L323.18 341.77 L323.55 342.38 L323.92 342.99 L324.29 343.6 L324.66 344.21 L325.03 344.82 L325.4 345.44 L325.77 346.05 L326.14 346.66 L326.51 347.27 L326.88 347.88 L327.25 348.49 L327.62 349.11 L327.99 349.72 L328.36 350.33 L328.73 350.94 L329.1 351.56 L329.48 352.17 L329.85 352.78 L330.22 353.39 L330.59 354 L330.96 354.62 L331.33 355.23 L331.7 355.84 L332.07 356.46 L332.44 357.07 L332.81 357.68 L333.18 358.29 L333.55 358.91 L333.92 359.52 L334.29 360.13 L334.66 360.74"/>
<path class="dl" d="M334.66 96.41 L335.4 97.62 L336.14 98.83 L336.88 100.04 L337.62 101.25 L338.36 102.46 L339.1 103.67 L339.84 104.88 L340.59 106.08 L341.33 107.29 L342.07 108.5 L342.81 109.7 L343.55 110.9 L344.29 112.11 L345.03 113.31 L345.77 114.51 L346.51 115.71 L347.25 116.91 L347.99 118.11 L348.73 119.31 L349.47 120.51 L350.21 121.7 L350.96 122.9 L351.7 124.09 L352.44 125.28 L353.18 126.47 L353.92 127.66 L354.66 128.85 L355.4 130.04 L356.14 131.22 L356.88 132.41 L357.62 133.59 L358.36 134.77 L359.1 135.95 L359.84 137.13 L360.58 138.3 L361.32 139.48 L362.07 140.65 L362.81 141.82 L363.55 142.98 L364.29 144.15 L365.03 145.31 L365.77 146.47 L366.51 147.63 L367.25 148.78 L367.99 149.93 L368.73 151.08 L369.47 152.22 L370.21 153.36 L370.95 154.5 L371.69 155.64 L372.43 156.76 L373.18 157.89 L373.92 159.01 L374.66 160.12 L375.4 161.23 L376.14 162.34 L376.88 163.44 L377.62 164.53 L378.36 165.62 L379.1 166.69 L379.84 167.77 L380.58 168.83 L381.32 169.88 L382.06 170.93 L382.8 171.96 L383.55 172.99 L384.29 174 L385.03 175 L385.77 175.99 L386.51 176.96 L387.25 177.92 L387.99 178.87 L388.73 179.79 L389.47 180.7 L390.21 181.58 L390.95 182.45 L391.69 183.29 L392.43 184.1 L393.17 184.89 L393.91 185.65 L394.66 186.38 L395.4 187.07 L396.14 187.73 L396.88 188.34 L397.62 188.92 L398.36 189.45 L399.1 189.93 L399.84 190.37 L400.58 190.75 L401.32 191.08 L402.06 191.35 L402.8 191.56 L403.54 191.72 L404.28 191.81 L405.02 191.84 L405.77 191.81 L406.51 191.72 L407.25 191.56 L407.99 191.35 L408.73 191.08 L409.47 190.75 L410.21 190.37 L410.95 189.93 L411.69 189.45 L412.43 188.92 L413.17 188.34 L413.91 187.73 L414.65 187.07 L415.39 186.38 L416.14 185.65 L416.88 184.89 L417.62 184.1 L418.36 183.29 L419.1 182.45 L419.84 181.58 L420.58 180.7 L421.32 179.79 L422.06 178.87 L422.8 177.92 L423.54 176.96 L424.28 175.99 L425.02 175 L425.76 174 L426.5 172.99 L427.25 171.96 L427.99 170.93 L428.73 169.88 L429.47 168.83 L430.21 167.77 L430.95 166.69 L431.69 165.62 L432.43 164.53 L433.17 163.44 L433.91 162.34 L434.65 161.23 L435.39 160.12 L436.13 159.01 L436.87 157.89 L437.62 156.76 L438.36 155.64 L439.1 154.5 L439.84 153.36 L440.58 152.22 L441.32 151.08 L442.06 149.93 L442.8 148.78 L443.54 147.63 L444.28 146.47 L445.02 145.31 L445.76 144.15 L446.5 142.98 L447.24 141.82 L447.98 140.65 L448.73 139.48 L449.47 138.3 L450.21 137.13 L450.95 135.95 L451.69 134.77 L452.43 133.59 L453.17 132.41 L453.91 131.22 L454.65 130.04 L455.39 128.85 L456.13 127.66 L456.87 126.47 L457.61 125.28 L458.35 124.09 L459.09 122.9 L459.84 121.7 L460.58 120.51 L461.32 119.31 L462.06 118.11 L462.8 116.91 L463.54 115.71 L464.28 114.51 L465.02 113.31 L465.76 112.11 L466.5 110.9 L467.24 109.7 L467.98 108.5 L468.72 107.29 L469.46 106.08 L470.21 104.88 L470.95 103.67 L471.69 102.46 L472.43 101.25 L473.17 100.04 L473.91 98.83 L474.65 97.62 L475.39 96.41"/>
<path class="dl" d="M334.66 336.79 L335.4 335.58 L336.14 334.37 L336.88 333.16 L337.62 331.95 L338.36 330.74 L339.1 329.53 L339.84 328.32 L340.59 327.12 L341.33 325.91 L342.07 324.7 L342.81 323.5 L343.55 322.3 L344.29 321.09 L345.03 319.89 L345.77 318.69 L346.51 317.49 L347.25 316.29 L347.99 315.09 L348.73 313.89 L349.47 312.69 L350.21 311.5 L350.96 310.3 L351.7 309.11 L352.44 307.92 L353.18 306.73 L353.92 305.54 L354.66 304.35 L355.4 303.16 L356.14 301.98 L356.88 300.79 L357.62 299.61 L358.36 298.43 L359.1 297.25 L359.84 296.07 L360.58 294.9 L361.32 293.72 L362.07 292.55 L362.81 291.38 L363.55 290.22 L364.29 289.05 L365.03 287.89 L365.77 286.73 L366.51 285.57 L367.25 284.42 L367.99 283.27 L368.73 282.12 L369.47 280.98 L370.21 279.84 L370.95 278.7 L371.69 277.56 L372.43 276.44 L373.18 275.31 L373.92 274.19 L374.66 273.08 L375.4 271.97 L376.14 270.86 L376.88 269.76 L377.62 268.67 L378.36 267.58 L379.1 266.51 L379.84 265.43 L380.58 264.37 L381.32 263.32 L382.06 262.27 L382.8 261.24 L383.55 260.21 L384.29 259.2 L385.03 258.2 L385.77 257.21 L386.51 256.24 L387.25 255.28 L387.99 254.33 L388.73 253.41 L389.47 252.5 L390.21 251.62 L390.95 250.75 L391.69 249.91 L392.43 249.1 L393.17 248.31 L393.91 247.55 L394.66 246.82 L395.4 246.13 L396.14 245.47 L396.88 244.86 L397.62 244.28 L398.36 243.75 L399.1 243.27 L399.84 242.83 L400.58 242.45 L401.32 242.12 L402.06 241.85 L402.8 241.64 L403.54 241.48 L404.28 241.39 L405.02 241.36 L405.77 241.39 L406.51 241.48 L407.25 241.64 L407.99 241.85 L408.73 242.12 L409.47 242.45 L410.21 242.83 L410.95 243.27 L411.69 243.75 L412.43 244.28 L413.17 244.86 L413.91 245.47 L414.65 246.13 L415.39 246.82 L416.14 247.55 L416.88 248.31 L417.62 249.1 L418.36 249.91 L419.1 250.75 L419.84 251.62 L420.58 252.5 L421.32 253.41 L422.06 254.33 L422.8 255.28 L423.54 256.24 L424.28 257.21 L425.02 258.2 L425.76 259.2 L426.5 260.21 L427.25 261.24 L427.99 262.27 L428.73 263.32 L429.47 264.37 L430.21 265.43 L430.95 266.51 L431.69 267.58 L432.43 268.67 L433.17 269.76 L433.91 270.86 L434.65 271.97 L435.39 273.08 L436.13 274.19 L436.87 275.31 L437.62 276.44 L438.36 277.56 L439.1 278.7 L439.84 279.84 L440.58 280.98 L441.32 282.12 L442.06 283.27 L442.8 284.42 L443.54 285.57 L444.28 286.73 L445.02 287.89 L445.76 289.05 L446.5 290.22 L447.24 291.38 L447.98 292.55 L448.73 293.72 L449.47 294.9 L450.21 296.07 L450.95 297.25 L451.69 298.43 L452.43 299.61 L453.17 300.79 L453.91 301.98 L454.65 303.16 L455.39 304.35 L456.13 305.54 L456.87 306.73 L457.61 307.92 L458.35 309.11 L459.09 310.3 L459.84 311.5 L460.58 312.69 L461.32 313.89 L462.06 315.09 L462.8 316.29 L463.54 317.49 L464.28 318.69 L465.02 319.89 L465.76 321.09 L466.5 322.3 L467.24 323.5 L467.98 324.7 L468.72 325.91 L469.46 327.12 L470.21 328.32 L470.95 329.53 L471.69 330.74 L472.43 331.95 L473.17 333.16 L473.91 334.37 L474.65 335.58 L475.39 336.79"/>
<path class="dl" style="stroke-dashoffset:11.4" d="M334.66 216.6 H475.39"/>
<path class="sll" d="M334.66 141.54 L335.03 142.08 L335.4 142.63 L335.77 143.17 L336.14 143.71 L336.51 144.25 L336.88 144.78 L337.25 145.32 L337.62 145.86 L337.99 146.39 L338.36 146.92 L338.73 147.45 L339.1 147.98 L339.47 148.51 L339.84 149.03 L340.22 149.55 L340.59 150.08 L340.96 150.6 L341.33 151.11 L341.7 151.63 L342.07 152.15 L342.44 152.66 L342.81 153.17 L343.18 153.68 L343.55 154.18 L343.92 154.69 L344.29 155.19 L344.66 155.69 L345.03 156.19 L345.4 156.68 L345.77 157.17 L346.14 157.66 L346.51 158.15 L346.88 158.64 L347.25 159.12 L347.62 159.6 L347.99 160.08 L348.36 160.55 L348.73 161.03 L349.1 161.49 L349.47 161.96 L349.84 162.43 L350.21 162.89 L350.58 163.34 L350.96 163.8 L351.33 164.25 L351.7 164.7 L352.07 165.14 L352.44 165.59 L352.81 166.03 L353.18 166.46 L353.55 166.89 L353.92 167.32 L354.29 167.75 L354.66 168.17 L355.03 168.59 L355.4 169 L355.77 169.41 L356.14 169.82 L356.51 170.22 L356.88 170.62 L357.25 171.02 L357.62 171.41 L357.99 171.8 L358.36 172.18 L358.73 172.56 L359.1 172.93 L359.47 173.31 L359.84 173.67 L360.21 174.04 L360.58 174.4 L360.95 174.75 L361.32 175.1 L361.69 175.45 L362.07 175.79 L362.44 176.13 L362.81 176.46 L363.18 176.79 L363.55 177.12 L363.92 177.44 L364.29 177.75 L364.66 178.07 L365.03 178.37 L365.4 178.68 L365.77 178.98 L366.14 179.27 L366.51 179.56 L366.88 179.85 L367.25 180.13 L367.62 180.41 L367.99 180.68 L368.36 180.95 L368.73 181.21 L369.1 181.47 L369.47 181.73 L369.84 181.98 L370.21 182.23 L370.58 182.47 L370.95 182.71 L371.32 182.95 L371.69 183.18 L372.06 183.41 L372.43 183.63 L372.81 183.85 L373.18 184.06 L373.55 184.28 L373.92 184.48 L374.29 184.69 L374.66 184.89 L375.03 185.08 L375.4 185.28 L375.77 185.46 L376.14 185.65 L376.51 185.83 L376.88 186.01 L377.25 186.18 L377.62 186.36 L377.99 186.52 L378.36 186.69 L378.73 186.85 L379.1 187.01 L379.47 187.16 L379.84 187.31 L380.21 187.46 L380.58 187.61 L380.95 187.75 L381.32 187.89 L381.69 188.02 L382.06 188.16 L382.43 188.29 L382.8 188.41 L383.17 188.54 L383.55 188.66 L383.92 188.78 L384.29 188.89 L384.66 189.01 L385.03 189.12 L385.4 189.22 L385.77 189.33 L386.14 189.43 L386.51 189.53 L386.88 189.63 L387.25 189.72 L387.62 189.82 L387.99 189.91 L388.36 189.99 L388.73 190.08 L389.1 190.16 L389.47 190.24 L389.84 190.32 L390.21 190.4 L390.58 190.47 L390.95 190.55 L391.32 190.62 L391.69 190.68 L392.06 190.75 L392.43 190.81 L392.8 190.87 L393.17 190.93 L393.54 190.99 L393.91 191.05 L394.29 191.1 L394.66 191.15 L395.03 191.2 L395.4 191.25 L395.77 191.29 L396.14 191.34 L396.51 191.38 L396.88 191.42 L397.25 191.46 L397.62 191.49 L397.99 191.53 L398.36 191.56 L398.73 191.59 L399.1 191.62 L399.47 191.65 L399.84 191.67 L400.21 191.69 L400.58 191.72 L400.95 191.74 L401.32 191.75 L401.69 191.77 L402.06 191.78 L402.43 191.8 L402.8 191.81 L403.17 191.82 L403.54 191.83 L403.91 191.83 L404.28 191.84 L404.65 191.84 L405.02 191.84 L405.03 191.84 L405.4 191.84 L405.77 191.84 L406.14 191.83 L406.51 191.83 L406.88 191.82 L407.25 191.81 L407.62 191.8 L407.99 191.78 L408.36 191.77 L408.73 191.75 L409.1 191.74 L409.47 191.72 L409.84 191.69 L410.21 191.67 L410.58 191.65 L410.95 191.62 L411.32 191.59 L411.69 191.56 L412.06 191.53 L412.43 191.49 L412.8 191.46 L413.17 191.42 L413.54 191.38 L413.91 191.34 L414.28 191.29 L414.65 191.25 L415.02 191.2 L415.39 191.15 L415.76 191.1 L416.14 191.05 L416.51 190.99 L416.88 190.93 L417.25 190.87 L417.62 190.81 L417.99 190.75 L418.36 190.68 L418.73 190.62 L419.1 190.55 L419.47 190.47 L419.84 190.4 L420.21 190.32 L420.58 190.24 L420.95 190.16 L421.32 190.08 L421.69 189.99 L422.06 189.91 L422.43 189.82 L422.8 189.72 L423.17 189.63 L423.54 189.53 L423.91 189.43 L424.28 189.33 L424.65 189.22 L425.02 189.12 L425.39 189.01 L425.76 188.89 L426.13 188.78 L426.5 188.66 L426.88 188.54 L427.25 188.41 L427.62 188.29 L427.99 188.16 L428.36 188.02 L428.73 187.89 L429.1 187.75 L429.47 187.61 L429.84 187.46 L430.21 187.31 L430.58 187.16 L430.95 187.01 L431.32 186.85 L431.69 186.69 L432.06 186.52 L432.43 186.36 L432.8 186.18 L433.17 186.01 L433.54 185.83 L433.91 185.65 L434.28 185.46 L434.65 185.28 L435.02 185.08 L435.39 184.89 L435.76 184.69 L436.13 184.48 L436.5 184.28 L436.87 184.06 L437.24 183.85 L437.62 183.63 L437.99 183.41 L438.36 183.18 L438.73 182.95 L439.1 182.71 L439.47 182.47 L439.84 182.23 L440.21 181.98 L440.58 181.73 L440.95 181.47 L441.32 181.21 L441.69 180.95 L442.06 180.68 L442.43 180.41 L442.8 180.13 L443.17 179.85 L443.54 179.56 L443.91 179.27 L444.28 178.98 L444.65 178.68 L445.02 178.37 L445.39 178.07 L445.76 177.75 L446.13 177.44 L446.5 177.12 L446.87 176.79 L447.24 176.46 L447.61 176.13 L447.98 175.79 L448.36 175.45 L448.73 175.1 L449.1 174.75 L449.47 174.4 L449.84 174.04 L450.21 173.67 L450.58 173.31 L450.95 172.93 L451.32 172.56 L451.69 172.18 L452.06 171.8 L452.43 171.41 L452.8 171.02 L453.17 170.62 L453.54 170.22 L453.91 169.82 L454.28 169.41 L454.65 169 L455.02 168.59 L455.39 168.17 L455.76 167.75 L456.13 167.32 L456.5 166.89 L456.87 166.46 L457.24 166.03 L457.61 165.59 L457.98 165.14 L458.35 164.7 L458.72 164.25 L459.09 163.8 L459.47 163.34 L459.84 162.89 L460.21 162.43 L460.58 161.96 L460.95 161.49 L461.32 161.03 L461.69 160.55 L462.06 160.08 L462.43 159.6 L462.8 159.12 L463.17 158.64 L463.54 158.15 L463.91 157.66 L464.28 157.17 L464.65 156.68 L465.02 156.19 L465.39 155.69 L465.76 155.19 L466.13 154.69 L466.5 154.18 L466.87 153.68 L467.24 153.17 L467.61 152.66 L467.98 152.15 L468.35 151.63 L468.72 151.11 L469.09 150.6 L469.46 150.08 L469.83 149.55 L470.21 149.03 L470.58 148.51 L470.95 147.98 L471.32 147.45 L471.69 146.92 L472.06 146.39 L472.43 145.86 L472.8 145.32 L473.17 144.78 L473.54 144.25 L473.91 143.71 L474.28 143.17 L474.65 142.63 L475.02 142.08 L475.39 141.54"/>
<path class="sll" d="M334.66 385.02 L334.89 384.63 L335.13 384.24 L335.36 383.85 L335.6 383.46 L335.83 383.07 L336.07 382.68 L336.3 382.29 L336.54 381.9 L336.77 381.51 L337.01 381.11 L337.24 380.72 L337.48 380.33 L337.71 379.94 L337.95 379.55 L338.18 379.16 L338.42 378.77 L338.65 378.38 L338.89 377.99 L339.12 377.6 L339.36 377.21 L339.59 376.82 L339.83 376.43 L340.06 376.04 L340.3 375.64 L340.53 375.25 L340.77 374.86 L341 374.47 L341.24 374.08 L341.47 373.69 L341.71 373.3 L341.94 372.91 L342.17 372.52 L342.41 372.13 L342.64 371.74 L342.88 371.35 L343.11 370.96 L343.35 370.57 L343.58 370.18 L343.82 369.78 L344.05 369.39 L344.29 369 L344.52 368.61 L344.76 368.22 L344.99 367.83 L345.23 367.44 L345.46 367.05 L345.7 366.66 L345.93 366.27 L346.17 365.88 L346.4 365.49 L346.64 365.1 L346.87 364.71 L347.11 364.32 L347.34 363.93 L347.58 363.53 L347.81 363.14 L348.05 362.75 L348.28 362.36 L348.52 361.97 L348.75 361.58 L348.99 361.19 L349.22 360.8 L349.45 360.41 L349.69 360.02 L349.92 359.63 L350.16 359.24 L350.39 358.85 L350.63 358.46 L350.86 358.07 L351.1 357.67 L351.33 357.28 L351.57 356.89 L351.8 356.5 L352.04 356.11 L352.27 355.72 L352.51 355.33 L352.74 354.94 L352.98 354.55 L353.21 354.16 L353.45 353.77 L353.68 353.38 L353.92 352.99 L354.15 352.6 L354.39 352.21 L354.62 351.82 L354.86 351.42 L355.09 351.03 L355.33 350.64 L355.56 350.25 L355.8 349.86 L356.03 349.47 L356.27 349.08 L356.5 348.69 L356.73 348.3 L356.97 347.91 L357.2 347.52 L357.44 347.13 L357.67 346.74 L357.91 346.35 L358.14 345.95 L358.38 345.56 L358.61 345.17 L358.85 344.78 L359.08 344.39 L359.32 344 L359.55 343.61 L359.79 343.22 L360.02 342.83 L360.26 342.44 L360.49 342.05 L360.73 341.66 L360.96 341.27 L361.2 340.87 L361.43 340.48 L361.67 340.09 L361.9 339.7 L362.14 339.31 L362.37 338.92 L362.61 338.53 L362.84 338.14 L363.08 337.75 L363.31 337.36 L363.55 336.97 L363.78 336.57 L364.01 336.18 L364.25 335.79 L364.48 335.4 L364.72 335.01 L364.95 334.62 L365.19 334.23 L365.42 333.84 L365.66 333.45 L365.89 333.06 L366.13 332.66 L366.36 332.27 L366.6 331.88 L366.83 331.49 L367.07 331.1 L367.3 330.71 L367.54 330.32 L367.77 329.93 L368.01 329.54 L368.24 329.14 L368.48 328.75 L368.71 328.36 L368.95 327.97 L369.18 327.58 L369.42 327.19 L369.65 326.8 L369.89 326.41 L370.12 326.01 L370.36 325.62 L370.59 325.23 L370.83 324.84 L371.06 324.45 L371.29 324.06 L371.53 323.66 L371.76 323.27 L372 322.88 L372.23 322.49 L372.47 322.1 L372.7 321.71 L372.94 321.31 L373.17 320.92 L373.41 320.53 L373.64 320.14 L373.88 319.75 L374.11 319.36 L374.35 318.96 L374.58 318.57 L374.82 318.18 L375.05 317.79 L375.29 317.4 L375.52 317 L375.76 316.61 L375.99 316.22 L376.23 315.83 L376.46 315.43 L376.7 315.04 L376.93 314.65 L377.17 314.26 L377.4 313.86 L377.64 313.47 L377.87 313.08 L378.11 312.69 L378.34 312.29 L378.57 311.9 L378.81 311.51 L379.04 311.12 L379.28 310.72 L379.51 310.33 L379.75 309.94 L379.98 309.54 L380.22 309.15 L380.45 308.76 L380.69 308.36 L380.92 307.97 L381.16 307.58 L381.39 307.18 L381.63 306.79 L381.86 306.4 L382.1 306 L382.33 305.61 L382.57 305.21 L382.8 304.82 L383.04 304.43 L383.27 304.03 L383.51 303.64 L383.74 303.24 L383.98 302.85 L384.21 302.45 L384.45 302.06 L384.68 301.66 L384.92 301.27 L385.15 300.87 L385.39 300.48 L385.62 300.08 L385.85 299.69 L386.09 299.29 L386.32 298.9 L386.56 298.5 L386.79 298.1 L387.03 297.71 L387.26 297.31 L387.5 296.91 L387.73 296.52 L387.97 296.12 L388.2 295.72 L388.44 295.33 L388.67 294.93 L388.91 294.53 L389.14 294.13 L389.38 293.74 L389.61 293.34 L389.85 292.94 L390.08 292.54 L390.32 292.14 L390.55 291.74 L390.79 291.34 L391.02 290.94 L391.26 290.54 L391.49 290.14 L391.73 289.74 L391.96 289.34 L392.2 288.94 L392.43 288.54 L392.67 288.14 L392.9 287.74 L393.13 287.34 L393.37 286.93 L393.6 286.53 L393.84 286.13 L394.07 285.72 L394.31 285.32 L394.54 284.92 L394.78 284.51 L395.01 284.11 L395.25 283.7 L395.48 283.3 L395.72 282.89 L395.95 282.48 L396.19 282.08 L396.42 281.67 L396.66 281.26 L396.89 280.85 L397.13 280.44 L397.36 280.03 L397.6 279.62 L397.83 279.21 L398.07 278.8 L398.3 278.39 L398.54 277.97 L398.77 277.56 L399.01 277.14 L399.24 276.73 L399.48 276.31 L399.71 275.9 L399.95 275.48 L400.18 275.06 L400.41 274.64 L400.65 274.22 L400.88 273.8 L401.12 273.37 L401.35 272.95 L401.59 272.52 L401.82 272.1 L402.06 271.67 L402.29 271.24 L402.53 270.81 L402.76 270.38 L403 269.94 L403.23 269.51 L403.47 269.07 L403.7 268.63 L403.94 268.19 L404.17 267.75 L404.41 267.3 L404.64 266.86 L404.88 266.41 L405.02 266.12 L405.17 266.41 L405.41 266.86 L405.64 267.3 L405.88 267.75 L406.11 268.19 L406.35 268.63 L406.58 269.07 L406.82 269.51 L407.05 269.94 L407.29 270.38 L407.52 270.81 L407.76 271.24 L407.99 271.67 L408.23 272.1 L408.46 272.52 L408.7 272.95 L408.93 273.37 L409.17 273.8 L409.4 274.22 L409.64 274.64 L409.87 275.06 L410.1 275.48 L410.34 275.9 L410.57 276.31 L410.81 276.73 L411.04 277.14 L411.28 277.56 L411.51 277.97 L411.75 278.39 L411.98 278.8 L412.22 279.21 L412.45 279.62 L412.69 280.03 L412.92 280.44 L413.16 280.85 L413.39 281.26 L413.63 281.67 L413.86 282.08 L414.1 282.48 L414.33 282.89 L414.57 283.3 L414.8 283.7 L415.04 284.11 L415.27 284.51 L415.51 284.92 L415.74 285.32 L415.98 285.72 L416.21 286.13 L416.45 286.53 L416.68 286.93 L416.92 287.34 L417.15 287.74 L417.38 288.14 L417.62 288.54 L417.85 288.94 L418.09 289.34 L418.32 289.74 L418.56 290.14 L418.79 290.54 L419.03 290.94 L419.26 291.34 L419.5 291.74 L419.73 292.14 L419.97 292.54 L420.2 292.94 L420.44 293.34 L420.67 293.74 L420.91 294.13 L421.14 294.53 L421.38 294.93 L421.61 295.33 L421.85 295.72 L422.08 296.12 L422.32 296.52 L422.55 296.91 L422.79 297.31 L423.02 297.71 L423.26 298.1 L423.49 298.5 L423.73 298.9 L423.96 299.29 L424.2 299.69 L424.43 300.08 L424.66 300.48 L424.9 300.87 L425.13 301.27 L425.37 301.66 L425.6 302.06 L425.84 302.45 L426.07 302.85 L426.31 303.24 L426.54 303.64 L426.78 304.03 L427.01 304.43 L427.25 304.82 L427.48 305.21 L427.72 305.61 L427.95 306 L428.19 306.4 L428.42 306.79 L428.66 307.18 L428.89 307.58 L429.13 307.97 L429.36 308.36 L429.6 308.76 L429.83 309.15 L430.07 309.54 L430.3 309.94 L430.54 310.33 L430.77 310.72 L431.01 311.12 L431.24 311.51 L431.48 311.9 L431.71 312.29 L431.94 312.69 L432.18 313.08 L432.41 313.47 L432.65 313.86 L432.88 314.26 L433.12 314.65 L433.35 315.04 L433.59 315.43 L433.82 315.83 L434.06 316.22 L434.29 316.61 L434.53 317 L434.76 317.4 L435 317.79 L435.23 318.18 L435.47 318.57 L435.7 318.96 L435.94 319.36 L436.17 319.75 L436.41 320.14 L436.64 320.53 L436.88 320.92 L437.11 321.31 L437.35 321.71 L437.58 322.1 L437.82 322.49 L438.05 322.88 L438.29 323.27 L438.52 323.66 L438.76 324.06 L438.99 324.45 L439.22 324.84 L439.46 325.23 L439.69 325.62 L439.93 326.01 L440.16 326.41 L440.4 326.8 L440.63 327.19 L440.87 327.58 L441.1 327.97 L441.34 328.36 L441.57 328.75 L441.81 329.14 L442.04 329.54 L442.28 329.93 L442.51 330.32 L442.75 330.71 L442.98 331.1 L443.22 331.49 L443.45 331.88 L443.69 332.27 L443.92 332.66 L444.16 333.06 L444.39 333.45 L444.63 333.84 L444.86 334.23 L445.1 334.62 L445.33 335.01 L445.57 335.4 L445.8 335.79 L446.04 336.18 L446.27 336.57 L446.5 336.97 L446.74 337.36 L446.97 337.75 L447.21 338.14 L447.44 338.53 L447.68 338.92 L447.91 339.31 L448.15 339.7 L448.38 340.09 L448.62 340.48 L448.85 340.87 L449.09 341.27 L449.32 341.66 L449.56 342.05 L449.79 342.44 L450.03 342.83 L450.26 343.22 L450.5 343.61 L450.73 344 L450.97 344.39 L451.2 344.78 L451.44 345.17 L451.67 345.56 L451.91 345.95 L452.14 346.35 L452.38 346.74 L452.61 347.13 L452.85 347.52 L453.08 347.91 L453.32 348.3 L453.55 348.69 L453.78 349.08 L454.02 349.47 L454.25 349.86 L454.49 350.25 L454.72 350.64 L454.96 351.03 L455.19 351.42 L455.43 351.82 L455.66 352.21 L455.9 352.6 L456.13 352.99 L456.37 353.38 L456.6 353.77 L456.84 354.16 L457.07 354.55 L457.31 354.94 L457.54 355.33 L457.78 355.72 L458.01 356.11 L458.25 356.5 L458.48 356.89 L458.72 357.28 L458.95 357.67 L459.19 358.07 L459.42 358.46 L459.66 358.85 L459.89 359.24 L460.13 359.63 L460.36 360.02 L460.6 360.41 L460.83 360.8 L461.06 361.19 L461.3 361.58 L461.53 361.97 L461.77 362.36 L462 362.75 L462.24 363.14 L462.47 363.53 L462.71 363.93 L462.94 364.32 L463.18 364.71 L463.41 365.1 L463.65 365.49 L463.88 365.88 L464.12 366.27 L464.35 366.66 L464.59 367.05 L464.82 367.44 L465.06 367.83 L465.29 368.22 L465.53 368.61 L465.76 369 L466 369.39 L466.23 369.78 L466.47 370.18 L466.7 370.57 L466.94 370.96 L467.17 371.35 L467.41 371.74 L467.64 372.13 L467.88 372.52 L468.11 372.91 L468.34 373.3 L468.58 373.69 L468.81 374.08 L469.05 374.47 L469.28 374.86 L469.52 375.25 L469.75 375.64 L469.99 376.04 L470.22 376.43 L470.46 376.82 L470.69 377.21 L470.93 377.6 L471.16 377.99 L471.4 378.38 L471.63 378.77 L471.87 379.16 L472.1 379.55 L472.34 379.94 L472.57 380.33 L472.81 380.72 L473.04 381.11 L473.28 381.51 L473.51 381.9 L473.75 382.29 L473.98 382.68 L474.22 383.07 L474.45 383.46 L474.69 383.85 L474.92 384.24 L475.16 384.63 L475.39 385.02"/>
<path class="sll" d="M398.36 247.8 L398.36 247.83 L398.36 247.87 L398.36 247.92 L398.36 247.98 L398.36 248.04 L398.36 248.1 L398.36 248.16 L398.36 248.22 L398.37 248.28 L398.37 248.35 L398.37 248.41 L398.38 248.47 L398.38 248.53 L398.38 248.6 L398.39 248.66 L398.39 248.72 L398.4 248.79 L398.4 248.85 L398.41 248.92 L398.42 248.98 L398.42 249.05 L398.43 249.11 L398.44 249.18 L398.45 249.24 L398.45 249.31 L398.46 249.38 L398.47 249.44 L398.48 249.51 L398.49 249.58 L398.5 249.65 L398.51 249.72 L398.52 249.78 L398.53 249.85 L398.54 249.92 L398.55 249.99 L398.56 250.06 L398.57 250.13 L398.59 250.2 L398.6 250.27 L398.61 250.34 L398.63 250.41 L398.64 250.49 L398.65 250.56 L398.67 250.63 L398.68 250.7 L398.7 250.78 L398.71 250.85 L398.73 250.92 L398.74 251 L398.76 251.07 L398.78 251.14 L398.79 251.22 L398.81 251.29 L398.83 251.37 L398.85 251.44 L398.87 251.52 L398.88 251.6 L398.9 251.67 L398.92 251.75 L398.94 251.83 L398.96 251.9 L398.98 251.98 L399 252.06 L399.02 252.14 L399.05 252.22 L399.07 252.3 L399.09 252.38 L399.11 252.46 L399.13 252.54 L399.16 252.62 L399.18 252.7 L399.2 252.78 L399.23 252.86 L399.25 252.94 L399.28 253.02 L399.3 253.11 L399.33 253.19 L399.35 253.27 L399.38 253.35 L399.41 253.44 L399.43 253.52 L399.46 253.61 L399.49 253.69 L399.52 253.78 L399.54 253.86 L399.57 253.95 L399.6 254.03 L399.63 254.12 L399.66 254.21 L399.69 254.29 L399.72 254.38 L399.75 254.47 L399.78 254.56 L399.81 254.65 L399.84 254.73 L399.88 254.82 L399.91 254.91 L399.94 255 L399.97 255.09 L400.01 255.18 L400.04 255.27 L400.07 255.36 L400.11 255.46 L400.14 255.55 L400.18 255.64 L400.21 255.73 L400.25 255.83 L400.28 255.92 L400.32 256.01 L400.36 256.11 L400.39 256.2 L400.43 256.3 L400.47 256.39 L400.51 256.49 L400.54 256.58 L400.58 256.68 L400.62 256.78 L400.66 256.87 L400.7 256.97 L400.74 257.07 L400.78 257.16 L400.82 257.26 L400.86 257.36 L400.9 257.46 L400.95 257.56 L400.99 257.66 L401.03 257.76 L401.07 257.86 L401.12 257.96 L401.16 258.06 L401.2 258.16 L401.25 258.27 L401.29 258.37 L401.33 258.47 L401.38 258.57 L401.43 258.68 L401.47 258.78 L401.52 258.89 L401.56 258.99 L401.61 259.1 L401.66 259.2 L401.7 259.31 L401.75 259.41 L401.8 259.52 L401.85 259.63 L401.9 259.73 L401.95 259.84 L402 259.95 L402.04 260.06 L402.09 260.17 L402.15 260.28 L402.2 260.39 L402.25 260.5 L402.3 260.61 L402.35 260.72 L402.4 260.83 L402.45 260.94 L402.51 261.05 L402.56 261.16 L402.61 261.28 L402.67 261.39 L402.72 261.5 L402.78 261.62 L402.83 261.73 L402.89 261.85 L402.94 261.96 L403 262.08 L403.05 262.19 L403.11 262.31 L403.17 262.43 L403.22 262.54 L403.28 262.66 L403.34 262.78 L403.4 262.9 L403.45 263.02 L403.51 263.14 L403.57 263.26 L403.63 263.38 L403.69 263.5 L403.75 263.62 L403.81 263.74 L403.87 263.86 L403.93 263.98 L404 264.1 L404.06 264.23 L404.12 264.35 L404.18 264.47 L404.24 264.6 L404.31 264.72 L404.37 264.85 L404.44 264.97 L404.5 265.1 L404.56 265.22 L404.63 265.35 L404.69 265.48 L404.76 265.61 L404.83 265.73 L404.89 265.86 L404.96 265.99 L405.02 266.12 L405.09 265.99 L405.16 265.86 L405.22 265.73 L405.29 265.61 L405.36 265.48 L405.42 265.35 L405.49 265.22 L405.55 265.1 L405.61 264.97 L405.68 264.85 L405.74 264.72 L405.81 264.6 L405.87 264.47 L405.93 264.35 L405.99 264.23 L406.05 264.1 L406.12 263.98 L406.18 263.86 L406.24 263.74 L406.3 263.62 L406.36 263.5 L406.42 263.38 L406.48 263.26 L406.54 263.14 L406.6 263.02 L406.65 262.9 L406.71 262.78 L406.77 262.66 L406.83 262.54 L406.88 262.43 L406.94 262.31 L407 262.19 L407.05 262.08 L407.11 261.96 L407.16 261.85 L407.22 261.73 L407.27 261.62 L407.33 261.5 L407.38 261.39 L407.44 261.28 L407.49 261.16 L407.54 261.05 L407.6 260.94 L407.65 260.83 L407.7 260.72 L407.75 260.61 L407.8 260.5 L407.85 260.39 L407.9 260.28 L407.96 260.17 L408.01 260.06 L408.05 259.95 L408.1 259.84 L408.15 259.73 L408.2 259.63 L408.25 259.52 L408.3 259.41 L408.35 259.31 L408.39 259.2 L408.44 259.1 L408.49 258.99 L408.53 258.89 L408.58 258.78 L408.62 258.68 L408.67 258.57 L408.72 258.47 L408.76 258.37 L408.8 258.27 L408.85 258.16 L408.89 258.06 L408.93 257.96 L408.98 257.86 L409.02 257.76 L409.06 257.66 L409.1 257.56 L409.15 257.46 L409.19 257.36 L409.23 257.26 L409.27 257.16 L409.31 257.07 L409.35 256.97 L409.39 256.87 L409.43 256.78 L409.47 256.68 L409.51 256.58 L409.54 256.49 L409.58 256.39 L409.62 256.3 L409.66 256.2 L409.69 256.11 L409.73 256.01 L409.77 255.92 L409.8 255.83 L409.84 255.73 L409.87 255.64 L409.91 255.55 L409.94 255.46 L409.98 255.36 L410.01 255.27 L410.04 255.18 L410.08 255.09 L410.11 255 L410.14 254.91 L410.17 254.82 L410.21 254.73 L410.24 254.65 L410.27 254.56 L410.3 254.47 L410.33 254.38 L410.36 254.29 L410.39 254.21 L410.42 254.12 L410.45 254.03 L410.48 253.95 L410.51 253.86 L410.53 253.78 L410.56 253.69 L410.59 253.61 L410.62 253.52 L410.64 253.44 L410.67 253.35 L410.7 253.27 L410.72 253.19 L410.75 253.11 L410.77 253.02 L410.8 252.94 L410.82 252.86 L410.85 252.78 L410.87 252.7 L410.89 252.62 L410.92 252.54 L410.94 252.46 L410.96 252.38 L410.98 252.3 L411 252.22 L411.03 252.14 L411.05 252.06 L411.07 251.98 L411.09 251.9 L411.11 251.83 L411.13 251.75 L411.15 251.67 L411.17 251.6 L411.18 251.52 L411.2 251.44 L411.22 251.37 L411.24 251.29 L411.26 251.22 L411.27 251.14 L411.29 251.07 L411.31 251 L411.32 250.92 L411.34 250.85 L411.35 250.78 L411.37 250.7 L411.38 250.63 L411.4 250.56 L411.41 250.49 L411.42 250.41 L411.44 250.34 L411.45 250.27 L411.46 250.2 L411.48 250.13 L411.49 250.06 L411.5 249.99 L411.51 249.92 L411.52 249.85 L411.53 249.78 L411.54 249.72 L411.55 249.65 L411.56 249.58 L411.57 249.51 L411.58 249.44 L411.59 249.38 L411.6 249.31 L411.6 249.24 L411.61 249.18 L411.62 249.11 L411.63 249.05 L411.63 248.98 L411.64 248.92 L411.65 248.85 L411.65 248.79 L411.66 248.72 L411.66 248.66 L411.67 248.6 L411.67 248.53 L411.67 248.47 L411.68 248.41 L411.68 248.35 L411.68 248.28 L411.69 248.22 L411.69 248.16 L411.69 248.1 L411.69 248.04 L411.69 247.98 L411.69 247.92 L411.69 247.87 L411.69 247.83 L411.69 247.8 L411.69 247.76 L411.69 247.73 L411.69 247.67 L411.69 247.61 L411.69 247.56 L411.69 247.5 L411.69 247.44 L411.69 247.38 L411.68 247.33 L411.68 247.27 L411.68 247.21 L411.67 247.16 L411.67 247.1 L411.67 247.04 L411.66 246.99 L411.66 246.93 L411.65 246.88 L411.65 246.82 L411.64 246.77 L411.63 246.71 L411.63 246.66 L411.62 246.6 L411.61 246.55 L411.6 246.5 L411.6 246.44 L411.59 246.39 L411.58 246.34 L411.57 246.29 L411.56 246.23 L411.55 246.18 L411.54 246.13 L411.53 246.08 L411.52 246.03 L411.51 245.98 L411.5 245.93 L411.49 245.88 L411.48 245.83 L411.46 245.78 L411.45 245.73 L411.44 245.68 L411.42 245.63 L411.41 245.58 L411.4 245.53 L411.38 245.48 L411.37 245.44 L411.35 245.39 L411.34 245.34 L411.32 245.29 L411.31 245.25 L411.29 245.2 L411.27 245.15 L411.26 245.11 L411.24 245.06 L411.22 245.02 L411.2 244.97 L411.18 244.93 L411.17 244.88 L411.15 244.84 L411.13 244.79 L411.11 244.75 L411.09 244.71 L411.07 244.66 L411.05 244.62 L411.03 244.58 L411 244.53 L410.98 244.49 L410.96 244.45 L410.94 244.41 L410.92 244.37 L410.89 244.33 L410.87 244.28 L410.85 244.24 L410.82 244.2 L410.8 244.16 L410.77 244.12 L410.75 244.08 L410.72 244.04 L410.7 244 L410.67 243.97 L410.64 243.93 L410.62 243.89 L410.59 243.85 L410.56 243.81 L410.53 243.77 L410.51 243.74 L410.48 243.7 L410.45 243.66 L410.42 243.63 L410.39 243.59 L410.36 243.55 L410.33 243.52 L410.3 243.48 L410.27 243.45 L410.24 243.41 L410.21 243.38 L410.17 243.34 L410.14 243.31 L410.11 243.27 L410.08 243.24 L410.04 243.21 L410.01 243.17 L409.98 243.14 L409.94 243.11 L409.91 243.08 L409.87 243.04 L409.84 243.01 L409.8 242.98 L409.77 242.95 L409.73 242.92 L409.69 242.89 L409.66 242.86 L409.62 242.83 L409.58 242.8 L409.54 242.77 L409.51 242.74 L409.47 242.71 L409.43 242.68 L409.39 242.65 L409.35 242.62 L409.31 242.59 L409.27 242.57 L409.23 242.54 L409.19 242.51 L409.15 242.48 L409.1 242.46 L409.06 242.43 L409.02 242.4 L408.98 242.38 L408.93 242.35 L408.89 242.33 L408.85 242.3 L408.8 242.28 L408.76 242.25 L408.72 242.23 L408.67 242.2 L408.62 242.18 L408.58 242.16 L408.53 242.13 L408.49 242.11 L408.44 242.09 L408.39 242.07 L408.35 242.05 L408.3 242.02 L408.25 242 L408.2 241.98 L408.15 241.96 L408.1 241.94 L408.05 241.92 L408.01 241.9 L407.96 241.88 L407.9 241.86 L407.85 241.84 L407.8 241.83 L407.75 241.81 L407.7 241.79 L407.65 241.77 L407.6 241.75 L407.54 241.74 L407.49 241.72 L407.44 241.7 L407.38 241.69 L407.33 241.67 L407.27 241.66 L407.22 241.64 L407.16 241.63 L407.11 241.61 L407.05 241.6 L407 241.59 L406.94 241.57 L406.88 241.56 L406.83 241.55 L406.77 241.54 L406.71 241.52 L406.65 241.51 L406.6 241.5 L406.54 241.49 L406.48 241.48 L406.42 241.47 L406.36 241.46 L406.3 241.45 L406.24 241.44 L406.18 241.44 L406.12 241.43 L406.05 241.42 L405.99 241.41 L405.93 241.41 L405.87 241.4 L405.81 241.39 L405.74 241.39 L405.68 241.38 L405.61 241.38 L405.55 241.38 L405.49 241.37 L405.42 241.37 L405.36 241.37 L405.29 241.36 L405.22 241.36 L405.16 241.36 L405.09 241.36 L405.02 241.36 L404.96 241.36 L404.89 241.36 L404.83 241.36 L404.76 241.36 L404.69 241.37 L404.63 241.37 L404.56 241.37 L404.5 241.38 L404.44 241.38 L404.37 241.38 L404.31 241.39 L404.24 241.39 L404.18 241.4 L404.12 241.41 L404.06 241.41 L404 241.42 L403.93 241.43 L403.87 241.44 L403.81 241.44 L403.75 241.45 L403.69 241.46 L403.63 241.47 L403.57 241.48 L403.51 241.49 L403.45 241.5 L403.4 241.51 L403.34 241.52 L403.28 241.54 L403.22 241.55 L403.17 241.56 L403.11 241.57 L403.05 241.59 L403 241.6 L402.94 241.61 L402.89 241.63 L402.83 241.64 L402.78 241.66 L402.72 241.67 L402.67 241.69 L402.61 241.7 L402.56 241.72 L402.51 241.74 L402.45 241.75 L402.4 241.77 L402.35 241.79 L402.3 241.81 L402.25 241.83 L402.2 241.84 L402.15 241.86 L402.09 241.88 L402.04 241.9 L402 241.92 L401.95 241.94 L401.9 241.96 L401.85 241.98 L401.8 242 L401.75 242.02 L401.7 242.05 L401.66 242.07 L401.61 242.09 L401.56 242.11 L401.52 242.13 L401.47 242.16 L401.43 242.18 L401.38 242.2 L401.33 242.23 L401.29 242.25 L401.25 242.28 L401.2 242.3 L401.16 242.33 L401.12 242.35 L401.07 242.38 L401.03 242.4 L400.99 242.43 L400.95 242.46 L400.9 242.48 L400.86 242.51 L400.82 242.54 L400.78 242.57 L400.74 242.59 L400.7 242.62 L400.66 242.65 L400.62 242.68 L400.58 242.71 L400.54 242.74 L400.51 242.77 L400.47 242.8 L400.43 242.83 L400.39 242.86 L400.36 242.89 L400.32 242.92 L400.28 242.95 L400.25 242.98 L400.21 243.01 L400.18 243.04 L400.14 243.08 L400.11 243.11 L400.07 243.14 L400.04 243.17 L400.01 243.21 L399.97 243.24 L399.94 243.27 L399.91 243.31 L399.88 243.34 L399.84 243.38 L399.81 243.41 L399.78 243.45 L399.75 243.48 L399.72 243.52 L399.69 243.55 L399.66 243.59 L399.63 243.63 L399.6 243.66 L399.57 243.7 L399.54 243.74 L399.52 243.77 L399.49 243.81 L399.46 243.85 L399.43 243.89 L399.41 243.93 L399.38 243.97 L399.35 244 L399.33 244.04 L399.3 244.08 L399.28 244.12 L399.25 244.16 L399.23 244.2 L399.2 244.24 L399.18 244.28 L399.16 244.33 L399.13 244.37 L399.11 244.41 L399.09 244.45 L399.07 244.49 L399.05 244.53 L399.02 244.58 L399 244.62 L398.98 244.66 L398.96 244.71 L398.94 244.75 L398.92 244.79 L398.9 244.84 L398.88 244.88 L398.87 244.93 L398.85 244.97 L398.83 245.02 L398.81 245.06 L398.79 245.11 L398.78 245.15 L398.76 245.2 L398.74 245.25 L398.73 245.29 L398.71 245.34 L398.7 245.39 L398.68 245.44 L398.67 245.48 L398.65 245.53 L398.64 245.58 L398.63 245.63 L398.61 245.68 L398.6 245.73 L398.59 245.78 L398.57 245.83 L398.56 245.88 L398.55 245.93 L398.54 245.98 L398.53 246.03 L398.52 246.08 L398.51 246.13 L398.5 246.18 L398.49 246.23 L398.48 246.29 L398.47 246.34 L398.46 246.39 L398.45 246.44 L398.45 246.5 L398.44 246.55 L398.43 246.6 L398.42 246.66 L398.42 246.71 L398.41 246.77 L398.4 246.82 L398.4 246.88 L398.39 246.93 L398.39 246.99 L398.38 247.04 L398.38 247.1 L398.38 247.16 L398.37 247.21 L398.37 247.27 L398.37 247.33 L398.36 247.38 L398.36 247.44 L398.36 247.5 L398.36 247.56 L398.36 247.61 L398.36 247.67 L398.36 247.73 L398.36 247.76 L398.36 247.8Z"/>
<circle cx="398.36" cy="247.8" r="4.0"/>
<circle cx="411.69" cy="247.8" r="4.0"/>
<circle cx="405.02" cy="266.12" r="4.0"/>
<path class="tk" d="M56.9 427.1v-5.2M56.9 6.1v5.2M64.31 427.1v-5.2M64.31 6.1v5.2M71.72 427.1v-5.2M71.72 6.1v5.2M79.12 427.1v-5.2M79.12 6.1v5.2M86.53 427.1v-10.5M86.53 6.1v10.5M93.94 427.1v-5.2M93.94 6.1v5.2M101.34 427.1v-5.2M101.34 6.1v5.2M108.75 427.1v-5.2M108.75 6.1v5.2M116.16 427.1v-5.2M116.16 6.1v5.2M123.56 427.1v-10.5M123.56 6.1v10.5M130.97 427.1v-5.2M130.97 6.1v5.2M138.38 427.1v-5.2M138.38 6.1v5.2M145.79 427.1v-5.2M145.79 6.1v5.2M153.19 427.1v-5.2M153.19 6.1v5.2M160.6 427.1v-10.5M160.6 6.1v10.5M168.01 427.1v-5.2M168.01 6.1v5.2M175.41 427.1v-5.2M175.41 6.1v5.2M182.82 427.1v-5.2M182.82 6.1v5.2M190.23 427.1v-5.2M190.23 6.1v5.2M53.2 414.68h5.5M193.93 414.68h-5.5M53.2 389.92h5.5M193.93 389.92h-5.5M53.2 365.16h5.5M193.93 365.16h-5.5M53.2 340.4h10.5M193.93 340.4h-10.5M53.2 315.64h5.5M193.93 315.64h-5.5M53.2 290.88h5.5M193.93 290.88h-5.5M53.2 266.12h5.5M193.93 266.12h-5.5M53.2 241.36h5.5M193.93 241.36h-5.5M53.2 216.6h10.5M193.93 216.6h-10.5M53.2 191.84h5.5M193.93 191.84h-5.5M53.2 167.08h5.5M193.93 167.08h-5.5M53.2 142.32h5.5M193.93 142.32h-5.5M53.2 117.56h5.5M193.93 117.56h-5.5M53.2 92.8h10.5M193.93 92.8h-10.5M53.2 68.04h5.5M193.93 68.04h-5.5M53.2 43.28h5.5M193.93 43.28h-5.5M53.2 18.52h5.5M193.93 18.52h-5.5M197.63 427.1v-5.2M197.63 6.1v5.2M205.04 427.1v-5.2M205.04 6.1v5.2M212.45 427.1v-5.2M212.45 6.1v5.2M219.85 427.1v-5.2M219.85 6.1v5.2M227.26 427.1v-10.5M227.26 6.1v10.5M234.67 427.1v-5.2M234.67 6.1v5.2M242.07 427.1v-5.2M242.07 6.1v5.2M249.48 427.1v-5.2M249.48 6.1v5.2M256.89 427.1v-5.2M256.89 6.1v5.2M264.3 427.1v-10.5M264.3 6.1v10.5M271.7 427.1v-5.2M271.7 6.1v5.2M279.11 427.1v-5.2M279.11 6.1v5.2M286.52 427.1v-5.2M286.52 6.1v5.2M293.92 427.1v-5.2M293.92 6.1v5.2M301.33 427.1v-10.5M301.33 6.1v10.5M308.74 427.1v-5.2M308.74 6.1v5.2M316.14 427.1v-5.2M316.14 6.1v5.2M323.55 427.1v-5.2M323.55 6.1v5.2M330.96 427.1v-5.2M330.96 6.1v5.2M193.93 414.68h5.5M334.66 414.68h-5.5M193.93 389.92h5.5M334.66 389.92h-5.5M193.93 365.16h5.5M334.66 365.16h-5.5M193.93 340.4h10.5M334.66 340.4h-10.5M193.93 315.64h5.5M334.66 315.64h-5.5M193.93 290.88h5.5M334.66 290.88h-5.5M193.93 266.12h5.5M334.66 266.12h-5.5M193.93 241.36h5.5M334.66 241.36h-5.5M193.93 216.6h10.5M334.66 216.6h-10.5M193.93 191.84h5.5M334.66 191.84h-5.5M193.93 167.08h5.5M334.66 167.08h-5.5M193.93 142.32h5.5M334.66 142.32h-5.5M193.93 117.56h5.5M334.66 117.56h-5.5M193.93 92.8h10.5M334.66 92.8h-10.5M193.93 68.04h5.5M334.66 68.04h-5.5M193.93 43.28h5.5M334.66 43.28h-5.5M193.93 18.52h5.5M334.66 18.52h-5.5M338.36 427.1v-5.2M338.36 6.1v5.2M345.77 427.1v-5.2M345.77 6.1v5.2M353.18 427.1v-5.2M353.18 6.1v5.2M360.58 427.1v-5.2M360.58 6.1v5.2M367.99 427.1v-10.5M367.99 6.1v10.5M375.4 427.1v-5.2M375.4 6.1v5.2M382.8 427.1v-5.2M382.8 6.1v5.2M390.21 427.1v-5.2M390.21 6.1v5.2M397.62 427.1v-5.2M397.62 6.1v5.2M405.02 427.1v-10.5M405.02 6.1v10.5M412.43 427.1v-5.2M412.43 6.1v5.2M419.84 427.1v-5.2M419.84 6.1v5.2M427.25 427.1v-5.2M427.25 6.1v5.2M434.65 427.1v-5.2M434.65 6.1v5.2M442.06 427.1v-10.5M442.06 6.1v10.5M449.47 427.1v-5.2M449.47 6.1v5.2M456.87 427.1v-5.2M456.87 6.1v5.2M464.28 427.1v-5.2M464.28 6.1v5.2M471.69 427.1v-5.2M471.69 6.1v5.2M334.66 414.68h5.5M475.39 414.68h-5.5M334.66 389.92h5.5M475.39 389.92h-5.5M334.66 365.16h5.5M475.39 365.16h-5.5M334.66 340.4h10.5M475.39 340.4h-10.5M334.66 315.64h5.5M475.39 315.64h-5.5M334.66 290.88h5.5M475.39 290.88h-5.5M334.66 266.12h5.5M475.39 266.12h-5.5M334.66 241.36h5.5M475.39 241.36h-5.5M334.66 216.6h10.5M475.39 216.6h-10.5M334.66 191.84h5.5M475.39 191.84h-5.5M334.66 167.08h5.5M475.39 167.08h-5.5M334.66 142.32h5.5M475.39 142.32h-5.5M334.66 117.56h5.5M475.39 117.56h-5.5M334.66 92.8h10.5M475.39 92.8h-10.5M334.66 68.04h5.5M475.39 68.04h-5.5M334.66 43.28h5.5M475.39 43.28h-5.5M334.66 18.52h5.5M475.39 18.52h-5.5"/>
<rect class="fr" x="53.2" y="6.1" width="140.73" height="421"/>
<rect class="fr" x="193.93" y="6.1" width="140.73" height="421"/>
<rect class="fr" x="334.66" y="6.1" width="140.73" height="421"/>
<path class="tk" d="M620.06 431.5v-10.5M620.06 5.4v10.5M639.43 431.5v-5.2M639.43 5.4v5.2M658.8 431.5v-5.2M658.8 5.4v5.2M678.18 431.5v-5.2M678.18 5.4v5.2M697.55 431.5v-10.5M697.55 5.4v10.5M716.92 431.5v-5.2M716.92 5.4v5.2M736.29 431.5v-5.2M736.29 5.4v5.2M755.66 431.5v-5.2M755.66 5.4v5.2M775.04 431.5v-10.5M775.04 5.4v10.5M794.41 431.5v-5.2M794.41 5.4v5.2M813.78 431.5v-5.2M813.78 5.4v5.2M833.15 431.5v-5.2M833.15 5.4v5.2M852.52 431.5v-10.5M852.52 5.4v10.5M871.9 431.5v-5.2M871.9 5.4v5.2M891.27 431.5v-5.2M891.27 5.4v5.2M910.64 431.5v-5.2M910.64 5.4v5.2M930.01 431.5v-10.5M930.01 5.4v10.5M949.38 431.5v-5.2M949.38 5.4v5.2M968.76 431.5v-5.2M968.76 5.4v5.2M988.13 431.5v-5.2M988.13 5.4v5.2M1007.5 431.5v-10.5M1007.5 5.4v10.5M608.9 413.9h10.5M1011.1 413.9h-10.5M608.9 384.69h5.2M1011.1 384.69h-5.2M608.9 355.47h5.2M1011.1 355.47h-5.2M608.9 326.25h5.2M1011.1 326.25h-5.2M608.9 297.04h10.5M1011.1 297.04h-10.5M608.9 267.82h5.2M1011.1 267.82h-5.2M608.9 238.61h5.2M1011.1 238.61h-5.2M608.9 209.39h5.2M1011.1 209.39h-5.2M608.9 180.18h10.5M1011.1 180.18h-10.5M608.9 150.96h5.2M1011.1 150.96h-5.2M608.9 121.75h5.2M1011.1 121.75h-5.2M608.9 92.53h5.2M1011.1 92.53h-5.2M608.9 63.32h10.5M1011.1 63.32h-10.5M608.9 34.11h5.2M1011.1 34.11h-5.2"/>
<rect class="fr" x="608.9" y="5.4" width="402.2" height="426.1"/>
<path class="slz" d="M623.93 413.9 L625.22 413.9 L626.5 413.9 L627.78 413.9 L629.07 413.9 L630.35 413.9 L631.63 413.9 L632.91 413.9 L634.2 413.9 L635.48 413.9 L636.76 413.9 L638.05 413.9 L639.33 413.9 L640.61 413.9 L641.89 413.89 L643.18 413.88 L644.46 413.87 L645.74 413.86 L647.03 413.83 L648.31 413.79 L649.59 413.75 L650.87 413.68 L652.16 413.6 L653.44 413.5 L654.72 413.38 L656.01 413.23 L657.29 413.06 L658.57 412.85 L659.85 412.61 L661.14 412.34 L662.42 412.03 L663.7 411.69 L664.98 411.31 L666.27 410.89 L667.55 410.43 L668.83 409.93 L670.12 409.39 L671.4 408.8 L672.68 408.18 L673.96 407.51 L675.25 406.81 L676.53 406.06 L677.81 405.27 L679.1 404.44 L680.38 403.57 L681.66 402.67 L682.94 401.73 L684.23 400.75 L685.51 399.73 L686.79 398.68 L688.08 397.6 L689.36 396.48 L690.64 395.33 L691.92 394.15 L693.21 392.94 L694.49 391.71 L695.77 390.44 L697.06 389.15 L698.34 387.84 L699.62 386.5 L700.9 385.13 L702.19 383.75 L703.47 382.34 L704.75 380.91 L706.04 379.47 L707.32 378.01 L708.6 376.52 L709.88 375.03 L711.17 373.52 L712.45 371.99 L713.73 370.45 L715.02 368.9 L716.3 367.33 L717.58 365.76 L718.86 364.17 L720.15 362.58 L721.43 360.97 L722.71 359.36 L723.99 357.74 L725.28 356.11 L726.56 354.48 L727.84 352.84 L729.13 351.2 L730.41 349.55 L731.69 347.9 L732.97 346.24 L734.26 344.58 L735.54 342.92 L736.82 341.26 L738.11 339.59 L739.39 337.93 L740.67 336.26 L741.95 334.59 L743.24 332.93 L744.52 331.26 L745.8 329.6 L747.09 327.93 L748.37 326.27 L749.65 324.61 L750.93 322.95 L752.22 321.29 L753.5 319.64 L754.78 317.98 L756.07 316.33 L757.35 314.69 L758.63 313.05 L759.91 311.41 L761.2 309.77 L762.48 308.14 L763.76 306.52 L765.05 304.9 L766.33 303.28 L767.61 301.67 L768.89 300.06 L770.18 298.46 L771.46 296.86 L772.74 295.27 L774.03 293.68 L775.31 292.1 L776.59 290.53 L777.87 288.96 L779.16 287.39 L780.44 285.83 L781.72 284.28 L783.01 282.74 L784.29 281.2 L785.57 279.66 L786.85 278.14 L788.14 276.62 L789.42 275.1 L790.7 273.59 L791.98 272.09 L793.27 270.6 L794.55 269.11 L795.83 267.63 L797.12 266.15 L798.4 264.68 L799.68 263.22 L800.96 261.77 L802.25 260.32 L803.53 258.88 L804.81 257.44 L806.1 256.01 L807.38 254.59 L808.66 253.18 L809.94 251.77 L811.23 250.37 L812.51 248.98 L813.79 247.59 L815.08 246.21 L816.36 244.83 L817.64 243.47 L818.92 242.11 L820.21 240.75 L821.49 239.41 L822.77 238.07 L824.06 236.74 L825.34 235.41 L826.62 234.09 L827.9 232.78 L829.19 231.47 L830.47 230.17 L831.75 228.88 L833.04 227.59 L834.32 226.31 L835.6 225.04 L836.88 223.78 L838.17 222.52 L839.45 221.26 L840.73 220.02 L842.02 218.78 L843.3 217.54 L844.58 216.31 L845.86 215.09 L847.15 213.88 L848.43 212.67 L849.71 211.47 L850.99 210.27 L852.28 209.09 L853.56 207.9 L854.84 206.73 L856.13 205.55 L857.41 204.39 L858.69 203.23 L859.97 202.08 L861.26 200.93 L862.54 199.79 L863.82 198.66 L865.11 197.53 L866.39 196.41 L867.67 195.29 L868.95 194.18 L870.24 193.08 L871.52 191.98 L872.8 190.88 L874.09 189.8 L875.37 188.72 L876.65 187.64 L877.93 186.57 L879.22 185.5 L880.5 184.45 L881.78 183.39 L883.07 182.34 L884.35 181.3 L885.63 180.26 L886.91 179.23 L888.2 178.21 L889.48 177.18 L890.76 176.17 L892.05 175.16 L893.33 174.15 L894.61 173.15 L895.89 172.16 L897.18 171.17 L898.46 170.18 L899.74 169.2 L901.03 168.23 L902.31 167.26 L903.59 166.3 L904.87 165.34 L906.16 164.38 L907.44 163.43 L908.72 162.49 L910.01 161.55 L911.29 160.61 L912.57 159.68 L913.85 158.76 L915.14 157.84 L916.42 156.92 L917.7 156.01 L918.98 155.1 L920.27 154.2 L921.55 153.3 L922.83 152.41 L924.12 151.52 L925.4 150.64 L926.68 149.76 L927.96 148.88 L929.25 148.01 L930.53 147.15 L931.81 146.28 L933.1 145.43 L934.38 144.57 L935.66 143.72 L936.94 142.88 L938.23 142.04 L939.51 141.2 L940.79 140.37 L942.08 139.54 L943.36 138.72 L944.64 137.9 L945.92 137.08 L947.21 136.27 L948.49 135.46 L949.77 134.66 L951.06 133.86 L952.34 133.06 L953.62 132.27 L954.9 131.48 L956.19 130.69 L957.47 129.91 L958.75 129.14 L960.04 128.36 L961.32 127.59 L962.6 126.83 L963.88 126.06 L965.17 125.31 L966.45 124.55 L967.73 123.8 L969.02 123.05 L970.3 122.31 L971.58 121.57 L972.86 120.83 L974.15 120.1 L975.43 119.37 L976.71 118.64 L977.99 117.92 L979.28 117.2 L980.56 116.48 L981.84 115.77 L983.13 115.06 L984.41 114.35 L985.69 113.65 L986.97 112.95 L988.26 112.25 L989.54 111.56 L990.82 110.87 L992.11 110.18 L993.39 109.5 L994.67 108.82 L995.95 108.14 L997.24 107.47 L998.52 106.8 L999.8 106.13 L1001.09 105.46 L1002.37 104.8 L1003.65 104.14 L1004.93 103.49 L1006.22 102.83 L1007.5 102.18"/>
<circle class="mk" cx="631.68" cy="413.9" r="4.2"/>
<circle class="mk" cx="647.18" cy="413.83" r="4.2"/>
<circle class="mk" cx="662.68" cy="411.97" r="4.2"/>
<circle class="mk" cx="678.18" cy="405.04" r="4.2"/>
<circle class="mk" cx="693.67" cy="392.5" r="4.2"/>
<circle class="mk" cx="709.17" cy="375.86" r="4.2"/>
<circle class="mk" cx="724.67" cy="356.89" r="4.2"/>
<circle class="mk" cx="740.17" cy="336.92" r="4.2"/>
<circle class="mk" cx="755.66" cy="316.85" r="4.2"/>
<circle class="mk" cx="771.16" cy="297.23" r="4.2"/>
<circle class="mk" cx="786.66" cy="278.37" r="4.2"/>
<circle class="mk" cx="802.16" cy="260.42" r="4.2"/>
<circle class="mk" cx="817.65" cy="243.45" r="4.2"/>
<circle class="mk" cx="833.15" cy="227.48" r="4.2"/>
<circle class="mk" cx="848.65" cy="212.46" r="4.2"/>
<circle class="mk" cx="864.15" cy="198.37" r="4.2"/>
<circle class="mk" cx="879.64" cy="185.15" r="4.2"/>
<circle class="mk" cx="895.14" cy="172.74" r="4.2"/>
<circle class="mk" cx="910.64" cy="161.09" r="4.2"/>
<circle class="mk" cx="926.14" cy="150.13" r="4.2"/>
<circle class="mk" cx="941.64" cy="139.82" r="4.2"/>
<circle class="mk" cx="957.13" cy="130.12" r="4.2"/>
<circle class="mk" cx="972.63" cy="120.96" r="4.2"/>
<circle class="mk" cx="988.13" cy="112.32" r="4.2"/>
<circle class="mk" cx="1003.63" cy="104.16" r="4.2"/>
<path class="ld" d="M624.3 269.58 L624.43 269.07 L624.56 268.55 L624.71 268.02 L624.86 267.49 L625.02 266.95 L625.19 266.41 L625.36 265.87 L625.54 265.32 L625.73 264.77 L625.93 264.21 L626.14 263.65 L626.35 263.08 L626.57 262.51 L626.8 261.93 L627.04 261.35 L627.28 260.77 L627.54 260.18 L627.8 259.59 L628.06 258.99 L628.34 258.39 L628.62 257.79 L628.91 257.18 L629.21 256.57 L629.52 255.95 L629.83 255.33 L630.15 254.71 L630.48 254.08 L630.82 253.45 L631.17 252.81 L631.52 252.17 L631.88 251.53 L632.25 250.88 L632.63 250.23 L633.01 249.58 L633.4 248.92 L633.8 248.26 L634.21 247.59 L634.62 246.92 L635.05 246.25 L635.48 245.58 L635.91 244.9 L636.36 244.21 L636.81 243.53 L637.28 242.84 L637.74 242.15 L638.22 241.45 L638.71 240.75 L639.2 240.05 L639.7 239.34 L640.21 238.63 L640.72 237.92 L641.25 237.21 L641.78 236.49 L642.32 235.77 L642.86 235.04 L643.42 234.31 L643.98 233.58 L644.55 232.85 L645.13 232.11 L645.71 231.37 L646.31 230.63 L646.91 229.89 L647.52 229.14 L648.13 228.39 L648.76 227.64 L649.39 226.88 L650.03 226.12 L650.67 225.36 L651.33 224.6 L651.99 223.83 L652.66 223.06 L653.34 222.29 L654.03 221.52 L654.72 220.74 L655.42 219.96 L656.13 219.18 L656.85 218.4 L657.57 217.61 L658.31 216.82 L659.05 216.03 L659.8 215.24 L660.55 214.45 L661.31 213.65 L662.09 212.85 L662.87 212.05 L663.65 211.25 L664.45 210.44 L665.25 209.63 L666.06 208.82 L666.88 208.01 L667.7 207.2 L668.54 206.38 L669.38 205.57 L670.23 204.75 L671.08 203.93 L671.95 203.11 L672.82 202.28 L673.7 201.46 L674.59 200.63 L675.48 199.8 L676.38 198.97 L677.29 198.14 L678.21 197.3 L679.14 196.47 L680.07 195.63 L681.02 194.79 L681.96 193.95 L682.92 193.11 L683.89 192.27 L684.86 191.42 L685.84 190.58 L686.83 189.73 L687.82 188.88 L688.83 188.03 L689.84 187.18 L690.86 186.33 L691.89 185.48 L692.92 184.62 L693.96 183.77 L695.01 182.91 L696.07 182.06 L697.14 181.2 L698.21 180.34 L699.29 179.48 L700.38 178.62 L701.48 177.76 L702.58 176.89 L703.69 176.03 L704.81 175.17 L705.94 174.3 L707.08 173.44 L708.22 172.57 L709.37 171.7 L710.53 170.84 L711.7 169.97 L712.87 169.1 L714.05 168.23 L715.24 167.36 L716.44 166.49 L717.64 165.62 L718.86 164.75 L720.08 163.88 L721.31 163.01 L722.54 162.13 L723.79 161.26 L725.04 160.39 L726.3 159.52 L727.56 158.64 L728.84 157.77 L730.12 156.9 L731.41 156.02 L732.71 155.15 L734.02 154.28 L735.33 153.4 L736.65 152.53 L737.98 151.66 L739.32 150.78 L740.66 149.91 L742.01 149.04 L743.37 148.17 L744.74 147.29 L746.12 146.42 L747.5 145.55 L748.89 144.68 L750.29 143.8 L751.7 142.93 L753.11 142.06 L754.53 141.19 L755.96 140.32 L757.4 139.45 L758.85 138.58 L760.3 137.72 L761.76 136.85 L763.23 135.98 L764.7 135.11 L766.19 134.25 L767.68 133.38 L769.18 132.52 L770.69 131.65 L772.2 130.79 L773.72 129.93 L775.26 129.07 L776.79 128.21 L778.34 127.35 L779.89 126.49 L781.45 125.63 L783.02 124.78 L784.6 123.92 L786.19 123.07 L787.78 122.21 L789.38 121.36 L790.99 120.51 L792.6 119.66 L794.23 118.81 L795.86 117.96 L797.5 117.12 L799.14 116.27 L800.8 115.43 L802.46 114.59 L804.13 113.74 L805.81 112.9 L807.49 112.07 L809.19 111.23 L810.89 110.39 L812.6 109.56 L814.31 108.73 L816.04 107.9 L817.77 107.07 L819.51 106.24 L821.25 105.41 L823.01 104.59 L824.77 103.76 L826.54 102.94 L828.32 102.12 L830.11 101.3 L831.9 100.48 L833.7 99.67 L835.51 98.85 L837.33 98.04 L839.15 97.23 L840.99 96.42 L842.83 95.62 L844.68 94.81 L846.53 94.01 L848.4 93.21 L850.27 92.41 L852.15 91.61 L854.03 90.81 L855.93 90.02 L857.83 89.22 L859.74 88.43 L861.66 87.64 L863.58 86.86 L865.52 86.07 L867.46 85.29 L869.41 84.51 L871.36 83.73 L873.33 82.95 L875.3 82.18 L877.28 81.4 L879.27 80.63 L881.26 79.86 L883.27 79.1 L885.28 78.33 L887.29 77.57 L889.32 76.81 L891.35 76.05 L893.4 75.3 L895.45 74.54 L897.5 73.79 L899.57 73.04 L901.64 72.29 L903.72 71.55 L905.81 70.81 L907.91 70.07 L910.01 69.33 L912.12 68.59 L914.24 67.86 L916.37 67.13 L918.5 66.4 L920.64 65.67 L922.8 64.95 L924.95 64.23 L927.12 63.51 L929.29 62.8 L931.47 62.08 L933.66 61.37 L935.86 60.66 L938.06 59.96 L940.28 59.25 L942.5 58.55 L944.72 57.85 L946.96 57.16 L949.2 56.47 L951.45 55.78 L953.71 55.09 L955.98 54.4 L958.25 53.72 L960.53 53.04 L962.82 52.36 L965.12 51.69 L967.43 51.02 L969.74 50.35 L972.06 49.69 L974.39 49.02 L976.72 48.36 L979.07 47.71 L981.42 47.05 L983.78 46.4 L986.15 45.75 L988.52 45.11 L990.9 44.47 L993.29 43.83 L995.69 43.19 L998.1 42.56 L1000.51 41.93 L1002.93 41.3 L1005.36 40.68 L1007.8 40.06"/>
<path class="sd" d="M624.5 395.29 L624.63 394.7 L624.76 394.11 L624.91 393.5 L625.06 392.88 L625.22 392.25 L625.39 391.61 L625.56 390.96 L625.74 390.3 L625.93 389.63 L626.13 388.95 L626.34 388.26 L626.55 387.56 L626.77 386.86 L627 386.14 L627.24 385.41 L627.48 384.68 L627.73 383.93 L627.99 383.18 L628.26 382.42 L628.54 381.65 L628.82 380.87 L629.11 380.08 L629.41 379.28 L629.72 378.47 L630.03 377.66 L630.35 376.83 L630.68 376 L631.02 375.16 L631.36 374.31 L631.72 373.46 L632.08 372.59 L632.45 371.72 L632.82 370.84 L633.21 369.95 L633.6 369.05 L634 368.14 L634.4 367.23 L634.82 366.31 L635.24 365.38 L635.67 364.45 L636.11 363.5 L636.56 362.55 L637.01 361.6 L637.47 360.63 L637.94 359.66 L638.42 358.68 L638.9 357.7 L639.39 356.7 L639.89 355.7 L640.4 354.7 L640.92 353.68 L641.44 352.66 L641.97 351.64 L642.51 350.61 L643.05 349.57 L643.61 348.52 L644.17 347.47 L644.74 346.41 L645.32 345.35 L645.9 344.28 L646.5 343.2 L647.1 342.12 L647.7 341.03 L648.32 339.94 L648.94 338.84 L649.58 337.74 L650.22 336.62 L650.86 335.51 L651.52 334.39 L652.18 333.26 L652.85 332.13 L653.53 330.99 L654.21 329.85 L654.91 328.7 L655.61 327.55 L656.32 326.4 L657.03 325.23 L657.76 324.07 L658.49 322.9 L659.23 321.72 L659.98 320.54 L660.73 319.36 L661.5 318.17 L662.27 316.97 L663.05 315.78 L663.83 314.58 L664.63 313.37 L665.43 312.16 L666.24 310.95 L667.06 309.73 L667.88 308.51 L668.71 307.28 L669.56 306.06 L670.4 304.82 L671.26 303.59 L672.12 302.35 L673 301.11 L673.87 299.86 L674.76 298.61 L675.66 297.36 L676.56 296.11 L677.47 294.85 L678.39 293.59 L679.31 292.32 L680.25 291.06 L681.19 289.79 L682.14 288.52 L683.09 287.24 L684.06 285.97 L685.03 284.69 L686.01 283.41 L687 282.12 L687.99 280.84 L689 279.55 L690.01 278.26 L691.03 276.97 L692.05 275.67 L693.09 274.38 L694.13 273.08 L695.18 271.78 L696.24 270.48 L697.3 269.18 L698.37 267.87 L699.45 266.57 L700.54 265.26 L701.64 263.96 L702.74 262.65 L703.85 261.34 L704.97 260.03 L706.1 258.71 L707.24 257.4 L708.38 256.09 L709.53 254.77 L710.69 253.46 L711.85 252.14 L713.03 250.83 L714.21 249.51 L715.4 248.2 L716.59 246.88 L717.8 245.56 L719.01 244.24 L720.23 242.93 L721.46 241.61 L722.69 240.29 L723.94 238.98 L725.19 237.66 L726.45 236.34 L727.71 235.03 L728.99 233.71 L730.27 232.4 L731.56 231.08 L732.86 229.77 L734.16 228.45 L735.47 227.14 L736.79 225.83 L738.12 224.52 L739.46 223.21 L740.8 221.9 L742.15 220.6 L743.51 219.29 L744.88 217.99 L746.26 216.68 L747.64 215.38 L749.03 214.08 L750.43 212.78 L751.83 211.48 L753.25 210.19 L754.67 208.9 L756.1 207.61 L757.53 206.32 L758.98 205.03 L760.43 203.74 L761.89 202.46 L763.36 201.18 L764.83 199.9 L766.32 198.63 L767.81 197.35 L769.31 196.08 L770.81 194.81 L772.33 193.55 L773.85 192.28 L775.38 191.02 L776.92 189.77 L778.46 188.51 L780.01 187.26 L781.58 186.01 L783.14 184.77 L784.72 183.53 L786.3 182.29 L787.9 181.06 L789.49 179.83 L791.1 178.6 L792.72 177.37 L794.34 176.15 L795.97 174.94 L797.61 173.72 L799.25 172.51 L800.91 171.31 L802.57 170.1 L804.24 168.9 L805.91 167.7 L807.6 166.51 L809.29 165.32 L810.99 164.13 L812.7 162.95 L814.41 161.77 L816.14 160.59 L817.87 159.42 L819.61 158.25 L821.35 157.08 L823.11 155.92 L824.87 154.76 L826.64 153.6 L828.42 152.44 L830.2 151.29 L832 150.14 L833.8 148.99 L835.6 147.85 L837.42 146.71 L839.24 145.58 L841.08 144.44 L842.92 143.31 L844.76 142.18 L846.62 141.06 L848.48 139.93 L850.35 138.81 L852.23 137.7 L854.11 136.58 L856.01 135.47 L857.91 134.36 L859.82 133.26 L861.74 132.16 L863.66 131.06 L865.59 129.96 L867.53 128.86 L869.48 127.77 L871.44 126.68 L873.4 125.6 L875.37 124.51 L877.35 123.43 L879.34 122.35 L881.33 121.28 L883.33 120.2 L885.34 119.13 L887.36 118.06 L889.38 117 L891.42 115.93 L893.46 114.87 L895.51 113.81 L897.56 112.75 L899.63 111.7 L901.7 110.65 L903.78 109.6 L905.86 108.55 L907.96 107.51 L910.06 106.46 L912.17 105.42 L914.29 104.39 L916.42 103.35 L918.55 102.32 L920.69 101.28 L922.84 100.26 L925 99.23 L927.16 98.2 L929.33 97.18 L931.51 96.16 L933.7 95.14 L935.9 94.12 L938.1 93.11 L940.31 92.1 L942.53 91.09 L944.76 90.08 L946.99 89.07 L949.23 88.07 L951.48 87.06 L953.74 86.06 L956.01 85.06 L958.28 84.07 L960.56 83.07 L962.85 82.08 L965.14 81.09 L967.45 80.1 L969.76 79.11 L972.08 78.12 L974.41 77.14 L976.74 76.16 L979.08 75.18 L981.43 74.2 L983.79 73.22 L986.16 72.24 L988.53 71.27 L990.91 70.29 L993.3 69.32 L995.7 68.35 L998.1 67.39 L1000.52 66.42 L1002.94 65.45 L1005.36 64.49 L1007.8 63.53"/>
<path class="dt" d="M631.9 413.49 L632.03 413.25 L632.16 413.01 L632.3 412.78 L632.45 412.55 L632.61 412.33 L632.78 412.12 L632.95 411.9 L633.13 411.69 L633.32 411.49 L633.51 411.28 L633.71 411.08 L633.92 410.88 L634.14 410.67 L634.37 410.47 L634.6 410.27 L634.84 410.07 L635.09 409.87 L635.35 409.67 L635.61 409.46 L635.88 409.25 L636.16 409.04 L636.45 408.82 L636.74 408.61 L637.04 408.38 L637.35 408.16 L637.67 407.92 L637.99 407.68 L638.32 407.44 L638.66 407.19 L639.01 406.93 L639.36 406.66 L639.73 406.39 L640.09 406.1 L640.47 405.81 L640.86 405.51 L641.25 405.2 L641.65 404.88 L642.06 404.55 L642.47 404.2 L642.9 403.85 L643.33 403.48 L643.76 403.1 L644.21 402.71 L644.66 402.3 L645.12 401.88 L645.59 401.44 L646.07 400.99 L646.55 400.52 L647.04 400.04 L647.54 399.54 L648.05 399.02 L648.56 398.49 L649.08 397.94 L649.61 397.37 L650.15 396.78 L650.69 396.17 L651.24 395.55 L651.8 394.9 L652.37 394.23 L652.94 393.54 L653.53 392.83 L654.12 392.1 L654.71 391.34 L655.32 390.56 L655.93 389.76 L656.55 388.94 L657.18 388.09 L657.81 387.22 L658.46 386.33 L659.11 385.43 L659.76 384.5 L660.43 383.55 L661.1 382.59 L661.78 381.6 L662.47 380.6 L663.17 379.59 L663.87 378.55 L664.58 377.5 L665.3 376.44 L666.03 375.36 L666.76 374.27 L667.5 373.17 L668.25 372.05 L669.01 370.92 L669.77 369.78 L670.54 368.63 L671.32 367.47 L672.11 366.3 L672.9 365.12 L673.71 363.94 L674.52 362.74 L675.33 361.54 L676.16 360.33 L676.99 359.12 L677.83 357.9 L678.68 356.67 L679.53 355.44 L680.4 354.2 L681.27 352.96 L682.14 351.7 L683.03 350.44 L683.92 349.17 L684.82 347.89 L685.73 346.6 L686.65 345.3 L687.57 343.99 L688.5 342.66 L689.44 341.33 L690.39 339.97 L691.34 338.61 L692.3 337.23 L693.27 335.83 L694.25 334.42 L695.23 332.99 L696.22 331.55 L697.22 330.1 L698.23 328.64 L699.24 327.16 L700.27 325.68 L701.3 324.19 L702.33 322.7 L703.38 321.2 L704.43 319.69 L705.49 318.18 L706.56 316.67 L707.63 315.16 L708.72 313.65 L709.81 312.14 L710.9 310.63 L712.01 309.12 L713.12 307.62 L714.24 306.13 L715.37 304.64 L716.51 303.15 L717.65 301.68 L718.8 300.2 L719.96 298.73 L721.13 297.26 L722.3 295.79 L723.48 294.32 L724.67 292.85 L725.87 291.38 L727.07 289.91 L728.28 288.44 L729.5 286.96 L730.73 285.48 L731.96 284 L733.2 282.51 L734.45 281.01 L735.71 279.5 L736.98 277.99 L738.25 276.47 L739.53 274.94 L740.82 273.39 L742.11 271.84 L743.41 270.28 L744.72 268.71 L746.04 267.13 L747.37 265.54 L748.7 263.95 L750.04 262.36 L751.39 260.76 L752.75 259.16 L754.11 257.56 L755.48 255.96 L756.86 254.36 L758.24 252.76 L759.64 251.16 L761.04 249.56 L762.45 247.97 L763.86 246.39 L765.29 244.81 L766.72 243.24 L768.16 241.67 L769.61 240.12 L771.06 238.57 L772.52 237.04 L773.99 235.52 L775.47 234.01 L776.95 232.51 L778.45 231.03 L779.95 229.56 L781.45 228.1 L782.97 226.64 L784.49 225.2 L786.02 223.76 L787.56 222.33 L789.11 220.9 L790.66 219.48 L792.22 218.06 L793.79 216.64 L795.36 215.23 L796.95 213.81 L798.54 212.4 L800.14 210.98 L801.74 209.56 L803.36 208.14 L804.98 206.71 L806.61 205.28 L808.24 203.85 L809.89 202.41 L811.54 200.97 L813.2 199.53 L814.86 198.09 L816.54 196.65 L818.22 195.21 L819.91 193.78 L821.61 192.35 L823.31 190.92 L825.02 189.51 L826.74 188.1 L828.47 186.7 L830.21 185.31 L831.95 183.93 L833.7 182.56 L835.46 181.2 L837.22 179.85 L839 178.5 L840.78 177.17 L842.56 175.84 L844.36 174.53 L846.16 173.22 L847.97 171.91 L849.79 170.62 L851.62 169.32 L853.45 168.04 L855.29 166.76 L857.14 165.48 L859 164.2 L860.86 162.93 L862.74 161.66 L864.61 160.4 L866.5 159.13 L868.4 157.86 L870.3 156.6 L872.21 155.33 L874.12 154.07 L876.05 152.8 L877.98 151.54 L879.92 150.27 L881.87 149.01 L883.82 147.75 L885.79 146.49 L887.76 145.23 L889.73 143.97 L891.72 142.71 L893.71 141.46 L895.71 140.2 L897.72 138.95 L899.74 137.7 L901.76 136.46 L903.79 135.21 L905.83 133.97 L907.88 132.73 L909.93 131.5 L911.99 130.27 L914.06 129.04 L916.14 127.81 L918.22 126.59 L920.31 125.38 L922.41 124.16 L924.52 122.96 L926.63 121.75 L928.75 120.55 L930.88 119.36 L933.02 118.17 L935.16 116.98 L937.32 115.81 L939.48 114.63 L941.64 113.46 L943.82 112.3 L946 111.15 L948.19 110 L950.39 108.85 L952.6 107.72 L954.81 106.59 L957.03 105.46 L959.26 104.35 L961.49 103.24 L963.74 102.14 L965.99 101.04 L968.25 99.95 L970.51 98.88 L972.79 97.8 L975.07 96.74 L977.36 95.69 L979.65 94.64 L981.96 93.61 L984.27 92.58 L986.59 91.56 L988.91 90.55 L991.25 89.55 L993.59 88.56 L995.94 87.58 L998.3 86.6 L1000.66 85.64 L1003.03 84.69 L1005.41 83.75 L1007.8 82.82"/>
<path class="sl" style="stroke-width:1.9" d="M853.1 267.6H892.3"/>
<path class="dt" d="M853.1 297.4H892.3"/>
<path class="sd" style="stroke-width:1.9" d="M853.1 326H892.3"/>
<path class="ld" style="stroke-width:1.9;stroke-dasharray:17.3 4.7" d="M853.1 355.5H892.3"/>
<text x="18.57" y="98.62" font-size="18.21" textLength="26.01" lengthAdjust="spacingAndGlyphs" class="tl">0.5</text>
<text x="33.81" y="222.62" font-size="18.21" textLength="11.07" lengthAdjust="spacingAndGlyphs" class="tl">0</text>
<text x="6.03" y="346.62" font-size="18.21" textLength="38.91" lengthAdjust="spacingAndGlyphs" class="tl">&#8722;0.5</text>
<text x="68.05" y="448.02" font-size="18.21" textLength="37.97" lengthAdjust="spacingAndGlyphs" class="tl">&#8722;0.5</text>
<text x="118.63" y="448.02" font-size="18.21" textLength="10.83" lengthAdjust="spacingAndGlyphs" class="tl">0</text>
<text x="147.66" y="448.02" font-size="18.21" textLength="26.28" lengthAdjust="spacingAndGlyphs" class="tl">0.5</text>
<text x="116.55" y="469.72" font-size="24.18" textLength="12.91" lengthAdjust="spacingAndGlyphs" font-style="italic" class="tl">&#947;</text>
<text x="208.78" y="448.02" font-size="18.21" textLength="37.97" lengthAdjust="spacingAndGlyphs" class="tl">&#8722;0.5</text>
<text x="259.36" y="448.02" font-size="18.21" textLength="10.83" lengthAdjust="spacingAndGlyphs" class="tl">0</text>
<text x="288.39" y="448.02" font-size="18.21" textLength="26.28" lengthAdjust="spacingAndGlyphs" class="tl">0.5</text>
<text x="257.28" y="469.72" font-size="24.18" textLength="12.91" lengthAdjust="spacingAndGlyphs" font-style="italic" class="tl">&#947;</text>
<text x="349.51" y="448.02" font-size="18.21" textLength="37.97" lengthAdjust="spacingAndGlyphs" class="tl">&#8722;0.5</text>
<text x="400.09" y="448.02" font-size="18.21" textLength="10.83" lengthAdjust="spacingAndGlyphs" class="tl">0</text>
<text x="429.12" y="448.02" font-size="18.21" textLength="26.28" lengthAdjust="spacingAndGlyphs" class="tl">0.5</text>
<text x="398" y="469.72" font-size="24.18" textLength="12.91" lengthAdjust="spacingAndGlyphs" font-style="italic" class="tl">&#947;</text>
<text transform="translate(12.35 216.6) rotate(-90)" font-size="22" text-anchor="middle" dy="0.25em" font-style="italic" class="tl">&#949;</text>
<text x="57.96" y="42.55" font-size="23.56" textLength="39.66" lengthAdjust="spacingAndGlyphs" class="tl2">(a):</text>
<text x="106.99" y="43.57" font-size="22.54" textLength="62.72" lengthAdjust="spacingAndGlyphs" class="tl2">c=0.1</text>
<text x="198.61" y="42.55" font-size="23.56" textLength="39.4" lengthAdjust="spacingAndGlyphs" class="tl2">(b):</text>
<text x="248.35" y="43.57" font-size="22.54" textLength="65.02" lengthAdjust="spacingAndGlyphs" class="tl2">c=0.2</text>
<text x="339.61" y="42.55" font-size="23.56" textLength="37.81" lengthAdjust="spacingAndGlyphs" class="tl2">(c):</text>
<text x="387.89" y="43.57" font-size="22.54" textLength="62.91" lengthAdjust="spacingAndGlyphs" class="tl2">c=0.4</text>
<text x="424.31" y="255.6" font-size="22.15" textLength="12" lengthAdjust="spacingAndGlyphs" class="tl2">T</text>
<text x="398.81" y="304.8" font-size="21.85" textLength="14.02" lengthAdjust="spacingAndGlyphs" class="tl2">X</text>
<text x="589.49" y="420.12" font-size="17.91" textLength="10.18" lengthAdjust="spacingAndGlyphs" class="tl">0</text>
<text x="574.07" y="303.26" font-size="17.91" textLength="26.03" lengthAdjust="spacingAndGlyphs" class="tl">0.2</text>
<text x="574.09" y="186.4" font-size="17.91" textLength="25.16" lengthAdjust="spacingAndGlyphs" class="tl">0.4</text>
<text x="574.09" y="69.54" font-size="17.91" textLength="25.37" lengthAdjust="spacingAndGlyphs" class="tl">0.6</text>
<text x="614.61" y="452.22" font-size="18.06" textLength="11.07" lengthAdjust="spacingAndGlyphs" class="tl">0</text>
<text x="679.2" y="452.22" font-size="18.06" textLength="37.12" lengthAdjust="spacingAndGlyphs" class="tl">0.02</text>
<text x="756.71" y="452.22" font-size="18.06" textLength="36.24" lengthAdjust="spacingAndGlyphs" class="tl">0.04</text>
<text x="834.19" y="452.22" font-size="18.06" textLength="36.46" lengthAdjust="spacingAndGlyphs" class="tl">0.06</text>
<text x="911.67" y="452.22" font-size="18.06" textLength="36.68" lengthAdjust="spacingAndGlyphs" class="tl">0.08</text>
<text x="994.78" y="452.22" font-size="18.06" textLength="25.54" lengthAdjust="spacingAndGlyphs" class="tl">0.1</text>
<text x="802.71" y="474.08" font-size="21.88" textLength="13.89" lengthAdjust="spacingAndGlyphs" font-style="italic" class="tl">&#945;</text>
<text transform="rotate(-90)" x="-358.22" y="558.1" font-size="25.5" textLength="19.48" lengthAdjust="spacingAndGlyphs">r,</text>
<text transform="rotate(-90)" x="-332.11" y="558.1" font-size="25.5" textLength="115.94" lengthAdjust="spacingAndGlyphs">tunneling</text>
<text transform="rotate(-90)" x="-206.88" y="558.1" font-size="25.5" textLength="128.03" lengthAdjust="spacingAndGlyphs">probability</text>
<text x="913.85" y="267.79" font-size="21.19" textLength="65.15" lengthAdjust="spacingAndGlyphs" class="tl2">c=0.0</text>
<text x="913.87" y="296.39" font-size="21.34" textLength="63.76" lengthAdjust="spacingAndGlyphs" class="tl2">c=0.1</text>
<text x="914.04" y="326.09" font-size="21.34" textLength="65.43" lengthAdjust="spacingAndGlyphs" class="tl2">c=0.2</text>
<text x="914.06" y="355.98" font-size="21.79" textLength="64.25" lengthAdjust="spacingAndGlyphs" class="tl2">c=0.4</text>
<text x="112.54" y="519.3" font-size="28.5" textLength="10.05" lengthAdjust="spacingAndGlyphs">(</text>
<text x="124.65" y="519.3" font-size="28.5" textLength="49.14" lengthAdjust="spacingAndGlyphs" font-weight="bold">Left</text>
<text x="173.91" y="519.3" font-size="28.5" textLength="9.86" lengthAdjust="spacingAndGlyphs">)</text>
<text x="191.17" y="519.3" font-size="28.5" textLength="176.26" lengthAdjust="spacingAndGlyphs">Energy levels.</text>
<text x="614.6" y="519.1" font-size="28.5" textLength="9.99" lengthAdjust="spacingAndGlyphs">(</text>
<text x="624.61" y="519.1" font-size="28.5" textLength="70.87" lengthAdjust="spacingAndGlyphs" font-weight="bold">Right</text>
<text x="695.68" y="519.1" font-size="28.5" textLength="10.25" lengthAdjust="spacingAndGlyphs">)</text>
<text x="716.58" y="519.1" font-size="28.5" textLength="273.72" lengthAdjust="spacingAndGlyphs">Transition probability.</text>
</svg>
</body></html>
